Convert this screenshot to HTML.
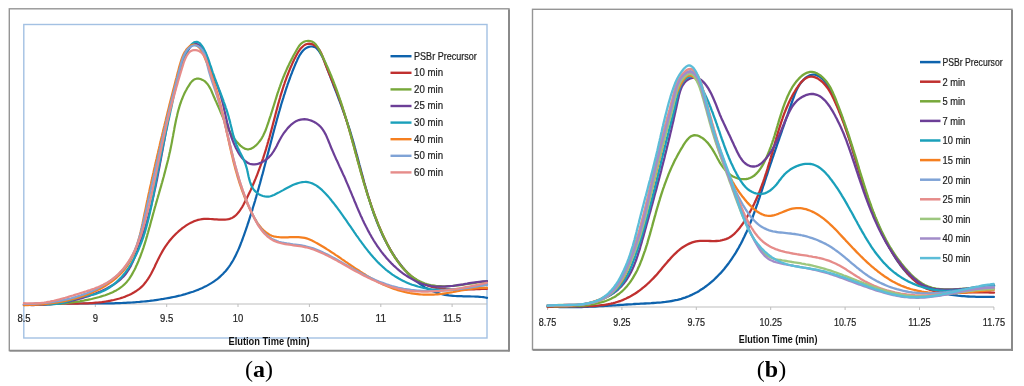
<!DOCTYPE html>
<html><head><meta charset="utf-8"><style>
html,body{margin:0;padding:0;background:#fff;}
body{width:1024px;height:386px;overflow:hidden;}
svg{display:block;}
.ax{font-family:"Liberation Sans",sans-serif;font-size:10.6px;fill:#1e1e1e;stroke:#1e1e1e;stroke-width:0.22px;text-anchor:middle;}
.ax2{font-family:"Liberation Sans",sans-serif;font-size:10.3px;fill:#1e1e1e;stroke:#1e1e1e;stroke-width:0.22px;text-anchor:middle;}
.at{font-family:"Liberation Sans",sans-serif;font-size:10px;font-weight:bold;fill:#111;text-anchor:middle;}
.at2{font-family:"Liberation Sans",sans-serif;font-size:10.2px;font-weight:bold;fill:#111;text-anchor:middle;}
.lg{font-family:"Liberation Sans",sans-serif;font-size:10.2px;fill:#1e1e1e;stroke:#1e1e1e;stroke-width:0.22px;}
.lg2{font-family:"Liberation Sans",sans-serif;font-size:10.6px;fill:#1e1e1e;stroke:#1e1e1e;stroke-width:0.22px;}
.cap{font-family:"Liberation Serif",serif;font-size:24px;fill:#000;text-anchor:middle;}
</style></head><body>
<svg width="1024" height="386" viewBox="0 0 1024 386">
<rect width="1024" height="386" fill="#fff"/>
<rect x="9.3" y="8.8" width="499.7" height="341.8" fill="#fff" stroke="#959595" stroke-width="1.4"/>
<rect x="508" y="9.5" width="2" height="342" fill="#8a8a8a"/>
<rect x="9.5" y="349.8" width="500" height="1.8" fill="#8a8a8a"/>
<rect x="23.8" y="24.5" width="463.2" height="313.5" fill="none" stroke="#A3C1E3" stroke-width="1.4"/>
<line x1="24" y1="304" x2="487" y2="304" stroke="#BDBDBD" stroke-width="1"/>
<line x1="24.0" y1="304" x2="24.0" y2="307" stroke="#BDBDBD" stroke-width="1"/>
<text x="24.0" y="321.7" class="ax" textLength="13.2" lengthAdjust="spacingAndGlyphs">8.5</text>
<line x1="95.3" y1="304" x2="95.3" y2="307" stroke="#BDBDBD" stroke-width="1"/>
<text x="95.3" y="321.7" class="ax" textLength="5.3" lengthAdjust="spacingAndGlyphs">9</text>
<line x1="166.7" y1="304" x2="166.7" y2="307" stroke="#BDBDBD" stroke-width="1"/>
<text x="166.7" y="321.7" class="ax" textLength="13.2" lengthAdjust="spacingAndGlyphs">9.5</text>
<line x1="238.0" y1="304" x2="238.0" y2="307" stroke="#BDBDBD" stroke-width="1"/>
<text x="238.0" y="321.7" class="ax" textLength="10.5" lengthAdjust="spacingAndGlyphs">10</text>
<line x1="309.4" y1="304" x2="309.4" y2="307" stroke="#BDBDBD" stroke-width="1"/>
<text x="309.4" y="321.7" class="ax" textLength="18.4" lengthAdjust="spacingAndGlyphs">10.5</text>
<line x1="380.8" y1="304" x2="380.8" y2="307" stroke="#BDBDBD" stroke-width="1"/>
<text x="380.8" y="321.7" class="ax" textLength="10.5" lengthAdjust="spacingAndGlyphs">11</text>
<line x1="452.1" y1="304" x2="452.1" y2="307" stroke="#BDBDBD" stroke-width="1"/>
<text x="452.1" y="321.7" class="ax" textLength="18.4" lengthAdjust="spacingAndGlyphs">11.5</text>
<text x="269.0" y="345.0" class="at" textLength="81.1" lengthAdjust="spacingAndGlyphs">Elution Time (min)</text>
<path d="M24.0,304.7 L26.0,304.6 L28.0,304.5 L30.0,304.4 L32.0,304.3 L34.0,304.2 L36.0,304.1 L38.0,304.0 L40.0,303.9 L42.0,303.9 L44.0,303.8 L46.0,303.8 L48.0,303.7 L50.0,303.7 L52.0,303.6 L54.0,303.6 L56.0,303.6 L58.0,303.6 L60.0,303.6 L62.0,303.5 L64.0,303.5 L66.0,303.5 L68.0,303.5 L70.0,303.5 L72.0,303.5 L74.0,303.5 L75.9,303.5 L77.9,303.5 L79.9,303.5 L81.9,303.5 L83.9,303.5 L85.9,303.5 L87.9,303.5 L89.9,303.5 L91.9,303.5 L93.9,303.5 L95.9,303.5 L97.9,303.5 L99.8,303.5 L101.8,303.5 L103.8,303.5 L105.8,303.4 L107.8,303.4 L109.8,303.4 L111.8,303.3 L113.8,303.3 L115.8,303.2 L117.7,303.1 L119.7,303.1 L121.7,303.0 L123.7,302.9 L125.7,302.8 L127.7,302.7 L129.7,302.6 L131.7,302.5 L133.7,302.3 L135.7,302.2 L137.6,302.0 L139.6,301.9 L141.6,301.7 L143.6,301.5 L145.6,301.3 L147.6,301.1 L149.6,300.9 L151.6,300.6 L153.6,300.4 L155.6,300.1 L157.5,299.8 L159.5,299.5 L161.5,299.2 L163.5,298.9 L165.5,298.5 L167.5,298.2 L169.5,297.8 L171.5,297.4 L173.5,297.0 L175.5,296.6 L177.5,296.1 L179.4,295.7 L181.4,295.2 L183.4,294.6 L185.3,294.1 L187.3,293.5 L189.2,292.9 L191.1,292.3 L193.0,291.7 L194.9,291.0 L196.8,290.3 L198.6,289.6 L200.5,288.8 L202.3,288.0 L204.0,287.1 L205.8,286.3 L207.5,285.4 L209.2,284.4 L210.9,283.4 L212.5,282.4 L214.1,281.3 L215.7,280.2 L217.2,279.1 L218.7,277.9 L220.1,276.6 L221.5,275.3 L222.9,274.0 L224.2,272.6 L225.5,271.2 L226.7,269.7 L227.9,268.2 L229.1,266.6 L230.2,265.0 L231.2,263.4 L232.3,261.7 L233.3,260.0 L234.2,258.2 L235.2,256.4 L236.1,254.6 L236.9,252.8 L237.8,250.9 L238.6,249.1 L239.4,247.2 L240.2,245.3 L240.9,243.3 L241.7,241.4 L242.4,239.5 L243.1,237.5 L243.8,235.6 L244.5,233.6 L245.2,231.7 L245.9,229.7 L246.5,227.8 L247.2,225.9 L247.8,223.9 L248.5,222.0 L249.1,220.0 L249.7,218.1 L250.3,216.2 L251.0,214.2 L251.6,212.3 L252.2,210.4 L252.7,208.4 L253.3,206.5 L253.9,204.6 L254.5,202.7 L255.1,200.7 L255.6,198.8 L256.2,196.9 L256.7,195.0 L257.3,193.0 L257.8,191.1 L258.4,189.2 L258.9,187.3 L259.4,185.4 L260.0,183.5 L260.5,181.5 L261.0,179.6 L261.5,177.7 L262.0,175.8 L262.6,173.9 L263.1,172.0 L263.6,170.1 L264.1,168.1 L264.6,166.2 L265.1,164.3 L265.6,162.4 L266.1,160.5 L266.6,158.6 L267.1,156.7 L267.6,154.8 L268.1,152.9 L268.6,151.0 L269.1,149.1 L269.6,147.2 L270.1,145.3 L270.6,143.4 L271.1,141.4 L271.6,139.5 L272.1,137.6 L272.6,135.7 L273.1,133.8 L273.6,131.9 L274.1,130.0 L274.6,128.1 L275.1,126.2 L275.7,124.3 L276.2,122.4 L276.7,120.5 L277.2,118.6 L277.8,116.7 L278.3,114.8 L278.8,112.9 L279.4,111.0 L279.9,109.1 L280.5,107.2 L281.0,105.3 L281.6,103.3 L282.2,101.4 L282.8,99.5 L283.4,97.6 L283.9,95.7 L284.6,93.8 L285.2,91.9 L285.8,90.0 L286.4,88.1 L287.1,86.1 L287.7,84.2 L288.4,82.3 L289.1,80.4 L289.8,78.5 L290.5,76.5 L291.2,74.6 L292.0,72.7 L292.7,70.7 L293.5,68.8 L294.3,66.9 L295.1,64.9 L295.9,63.0 L296.8,61.1 L297.6,59.1 L298.6,57.3 L299.5,55.5 L300.6,53.8 L301.7,52.2 L302.9,50.8 L304.2,49.5 L305.6,48.4 L307.2,47.5 L308.8,46.9 L310.6,46.5 L312.3,46.5 L314.0,46.8 L315.6,47.5 L317.0,48.7 L318.3,50.2 L319.5,51.9 L320.6,53.7 L321.6,55.5 L322.6,57.3 L323.4,59.1 L324.3,61.0 L325.1,62.9 L325.8,64.8 L326.5,66.7 L327.2,68.6 L327.9,70.5 L328.6,72.3 L329.3,74.2 L330.1,76.1 L330.8,78.0 L331.5,79.9 L332.2,81.7 L332.9,83.6 L333.6,85.5 L334.3,87.3 L335.0,89.2 L335.8,91.1 L336.5,92.9 L337.2,94.8 L337.9,96.6 L338.6,98.5 L339.3,100.3 L340.0,102.2 L340.7,104.0 L341.4,105.9 L342.0,107.7 L342.7,109.6 L343.4,111.5 L344.1,113.3 L344.7,115.2 L345.4,117.1 L346.0,118.9 L346.7,120.8 L347.3,122.7 L347.9,124.6 L348.6,126.4 L349.2,128.3 L349.8,130.2 L350.4,132.1 L351.0,134.0 L351.5,135.9 L352.1,137.9 L352.7,139.8 L353.2,141.7 L353.8,143.6 L354.3,145.5 L354.8,147.5 L355.4,149.4 L355.9,151.4 L356.4,153.3 L357.0,155.2 L357.5,157.2 L358.0,159.1 L358.5,161.1 L359.0,163.0 L359.5,165.0 L360.1,166.9 L360.6,168.9 L361.1,170.8 L361.6,172.7 L362.1,174.7 L362.7,176.6 L363.2,178.6 L363.7,180.5 L364.2,182.5 L364.8,184.4 L365.3,186.3 L365.9,188.3 L366.4,190.2 L367.0,192.1 L367.5,194.1 L368.1,196.0 L368.7,197.9 L369.3,199.8 L369.9,201.7 L370.5,203.7 L371.1,205.6 L371.7,207.5 L372.3,209.3 L373.0,211.2 L373.6,213.1 L374.3,215.0 L375.0,216.9 L375.7,218.7 L376.4,220.6 L377.1,222.4 L377.9,224.3 L378.6,226.1 L379.4,227.9 L380.2,229.8 L381.0,231.6 L381.8,233.4 L382.6,235.2 L383.5,236.9 L384.4,238.7 L385.2,240.5 L386.2,242.2 L387.1,244.0 L388.0,245.7 L389.0,247.4 L390.0,249.2 L391.0,250.9 L392.1,252.6 L393.1,254.2 L394.2,255.9 L395.3,257.6 L396.5,259.2 L397.6,260.8 L398.8,262.4 L400.0,264.0 L401.3,265.6 L402.5,267.2 L403.8,268.7 L405.1,270.3 L406.5,271.8 L407.8,273.2 L409.2,274.7 L410.6,276.1 L412.1,277.5 L413.6,278.8 L415.1,280.1 L416.6,281.4 L418.1,282.6 L419.7,283.8 L421.3,284.9 L423.0,286.0 L424.6,287.1 L426.3,288.1 L428.1,289.0 L429.8,289.9 L431.6,290.7 L433.4,291.5 L435.3,292.2 L437.1,292.9 L439.0,293.4 L441.0,294.0 L442.9,294.4 L444.9,294.8 L446.9,295.1 L448.9,295.4 L451.0,295.6 L453.1,295.8 L455.1,296.0 L457.2,296.1 L459.3,296.2 L461.4,296.2 L463.5,296.3 L465.5,296.3 L467.6,296.4 L469.7,296.4 L471.7,296.5 L473.7,296.5 L475.7,296.6 L477.7,296.7 L479.6,296.8 L481.5,297.0 L483.4,297.2 L485.2,297.5 L487.0,297.8" fill="none" stroke="#0E63AD" stroke-width="2.2" stroke-linejoin="round" stroke-linecap="round"/>
<path d="M24.0,304.6 L26.0,304.4 L28.0,304.2 L30.0,304.0 L32.0,303.9 L33.9,303.8 L35.9,303.7 L37.9,303.6 L39.9,303.5 L41.9,303.5 L43.9,303.4 L45.9,303.4 L47.9,303.4 L49.9,303.4 L51.9,303.4 L53.9,303.4 L55.9,303.4 L57.9,303.5 L59.9,303.5 L61.9,303.5 L63.9,303.5 L65.9,303.5 L67.9,303.6 L69.9,303.6 L71.9,303.6 L73.9,303.6 L75.9,303.6 L77.9,303.6 L79.9,303.5 L81.9,303.5 L83.9,303.4 L85.9,303.4 L87.9,303.3 L89.9,303.2 L91.9,303.1 L93.9,302.9 L95.8,302.7 L97.8,302.5 L99.8,302.3 L101.8,302.1 L103.8,301.8 L105.8,301.5 L107.8,301.2 L109.8,300.8 L111.7,300.4 L113.7,300.0 L115.7,299.5 L117.6,299.0 L119.6,298.5 L121.5,297.9 L123.4,297.3 L125.3,296.6 L127.1,295.8 L129.0,295.0 L130.7,294.2 L132.5,293.3 L134.2,292.3 L135.8,291.3 L137.4,290.2 L138.9,289.1 L140.4,287.9 L141.8,286.6 L143.2,285.2 L144.4,283.8 L145.6,282.3 L146.8,280.7 L147.9,279.1 L149.0,277.4 L150.0,275.7 L151.0,274.0 L151.9,272.2 L152.8,270.4 L153.8,268.5 L154.7,266.7 L155.5,264.8 L156.4,263.0 L157.3,261.1 L158.2,259.2 L159.2,257.4 L160.1,255.5 L161.1,253.7 L162.1,251.9 L163.1,250.1 L164.2,248.4 L165.3,246.7 L166.4,245.1 L167.6,243.4 L168.8,241.8 L170.0,240.3 L171.3,238.7 L172.6,237.3 L174.0,235.8 L175.3,234.4 L176.8,233.0 L178.2,231.7 L179.7,230.4 L181.2,229.2 L182.7,227.9 L184.3,226.8 L185.9,225.7 L187.5,224.6 L189.2,223.6 L190.9,222.7 L192.6,221.9 L194.4,221.1 L196.3,220.5 L198.1,219.9 L200.1,219.5 L202.0,219.1 L204.0,218.9 L206.1,218.9 L208.2,218.9 L210.3,219.0 L212.5,219.1 L214.6,219.3 L216.7,219.4 L218.8,219.6 L220.9,219.7 L222.9,219.7 L224.9,219.6 L226.8,219.4 L228.7,219.1 L230.4,218.6 L232.1,217.9 L233.6,217.0 L235.1,215.9 L236.4,214.7 L237.7,213.3 L239.0,211.8 L240.1,210.2 L241.2,208.5 L242.3,206.8 L243.3,205.0 L244.3,203.1 L245.2,201.3 L246.2,199.4 L247.1,197.6 L248.0,195.7 L248.9,193.8 L249.8,192.0 L250.7,190.1 L251.5,188.3 L252.3,186.4 L253.1,184.5 L253.9,182.7 L254.7,180.8 L255.5,178.9 L256.2,177.1 L257.0,175.2 L257.7,173.3 L258.4,171.4 L259.1,169.6 L259.8,167.7 L260.5,165.8 L261.2,163.9 L261.8,162.1 L262.4,160.2 L263.1,158.3 L263.7,156.4 L264.3,154.5 L264.9,152.7 L265.5,150.8 L266.1,148.9 L266.6,147.0 L267.2,145.1 L267.7,143.2 L268.3,141.3 L268.8,139.4 L269.4,137.5 L269.9,135.7 L270.4,133.8 L270.9,131.9 L271.4,130.0 L271.9,128.1 L272.4,126.2 L272.9,124.3 L273.4,122.4 L273.9,120.5 L274.4,118.6 L274.9,116.7 L275.4,114.7 L275.9,112.8 L276.4,110.9 L276.9,109.0 L277.4,107.1 L277.9,105.2 L278.4,103.3 L279.0,101.4 L279.5,99.5 L280.1,97.6 L280.6,95.6 L281.2,93.7 L281.8,91.8 L282.4,89.9 L283.0,88.0 L283.6,86.0 L284.3,84.1 L284.9,82.2 L285.6,80.3 L286.3,78.4 L287.0,76.4 L287.8,74.5 L288.5,72.6 L289.3,70.7 L290.1,68.7 L290.9,66.8 L291.8,64.9 L292.6,62.9 L293.5,61.0 L294.4,59.1 L295.4,57.2 L296.4,55.3 L297.4,53.4 L298.5,51.7 L299.6,50.0 L300.7,48.5 L302.0,47.2 L303.3,46.0 L304.6,45.0 L306.1,44.3 L307.6,43.9 L309.3,43.7 L311.0,43.9 L312.7,44.4 L314.4,45.2 L316.0,46.2 L317.5,47.5 L318.8,49.1 L319.9,50.7 L320.9,52.5 L321.7,54.4 L322.5,56.3 L323.2,58.2 L323.9,60.2 L324.6,62.1 L325.3,64.1 L326.1,66.0 L326.8,67.9 L327.6,69.8 L328.4,71.6 L329.1,73.5 L329.9,75.4 L330.7,77.2 L331.5,79.1 L332.2,81.0 L333.0,82.8 L333.8,84.7 L334.5,86.5 L335.3,88.4 L336.0,90.2 L336.7,92.1 L337.5,93.9 L338.2,95.8 L338.9,97.6 L339.5,99.5 L340.2,101.4 L340.9,103.3 L341.5,105.1 L342.2,107.0 L342.8,108.9 L343.4,110.8 L344.0,112.7 L344.6,114.6 L345.2,116.4 L345.8,118.3 L346.4,120.2 L347.0,122.1 L347.6,124.0 L348.1,125.9 L348.7,127.8 L349.2,129.7 L349.8,131.6 L350.3,133.5 L350.9,135.5 L351.4,137.4 L352.0,139.3 L352.5,141.2 L353.0,143.1 L353.5,145.0 L354.1,146.9 L354.6,148.8 L355.1,150.8 L355.6,152.7 L356.2,154.6 L356.7,156.5 L357.2,158.4 L357.7,160.4 L358.3,162.3 L358.8,164.2 L359.3,166.1 L359.9,168.0 L360.4,169.9 L360.9,171.9 L361.5,173.8 L362.0,175.7 L362.6,177.6 L363.1,179.5 L363.7,181.4 L364.2,183.4 L364.8,185.3 L365.4,187.2 L365.9,189.1 L366.5,191.0 L367.1,192.9 L367.7,194.8 L368.3,196.7 L369.0,198.6 L369.6,200.5 L370.2,202.5 L370.9,204.4 L371.5,206.3 L372.2,208.2 L372.8,210.0 L373.5,211.9 L374.2,213.8 L374.9,215.7 L375.6,217.6 L376.4,219.5 L377.1,221.4 L377.9,223.3 L378.6,225.1 L379.4,227.0 L380.2,228.9 L381.0,230.7 L381.8,232.6 L382.7,234.5 L383.5,236.3 L384.4,238.2 L385.3,240.0 L386.2,241.9 L387.1,243.7 L388.1,245.5 L389.0,247.3 L390.0,249.1 L391.0,250.9 L392.0,252.6 L393.1,254.4 L394.2,256.1 L395.3,257.8 L396.4,259.4 L397.5,261.0 L398.7,262.6 L399.9,264.2 L401.1,265.8 L402.4,267.3 L403.7,268.7 L405.0,270.2 L406.3,271.5 L407.7,272.9 L409.1,274.2 L410.6,275.5 L412.0,276.7 L413.5,277.9 L415.1,279.0 L416.7,280.0 L418.3,281.1 L419.9,282.0 L421.6,282.9 L423.4,283.8 L425.1,284.6 L426.9,285.3 L428.8,285.9 L430.7,286.5 L432.6,287.1 L434.6,287.5 L436.6,288.0 L438.6,288.3 L440.6,288.6 L442.7,288.9 L444.8,289.1 L446.9,289.3 L449.0,289.4 L451.1,289.5 L453.3,289.6 L455.4,289.7 L457.5,289.7 L459.7,289.7 L461.8,289.7 L463.9,289.6 L466.0,289.6 L468.0,289.5 L470.1,289.4 L472.1,289.4 L474.1,289.3 L476.0,289.2 L478.0,289.1 L479.8,289.1 L481.7,289.0 L483.5,289.0 L485.2,289.0 L486.9,289.0" fill="none" stroke="#C0302F" stroke-width="2.2" stroke-linejoin="round" stroke-linecap="round"/>
<path d="M24.0,304.5 L26.0,304.5 L28.0,304.5 L30.0,304.5 L32.0,304.5 L34.0,304.5 L36.0,304.5 L38.0,304.5 L40.0,304.5 L42.0,304.4 L44.0,304.4 L46.0,304.3 L48.0,304.2 L50.0,304.2 L52.0,304.1 L54.0,304.0 L56.0,303.8 L58.0,303.7 L59.9,303.6 L61.9,303.4 L63.9,303.2 L65.9,303.0 L67.9,302.8 L69.8,302.6 L71.8,302.4 L73.8,302.1 L75.8,301.9 L77.7,301.6 L79.7,301.3 L81.7,300.9 L83.7,300.6 L85.6,300.2 L87.6,299.8 L89.6,299.4 L91.6,299.0 L93.5,298.5 L95.5,298.0 L97.5,297.5 L99.4,297.0 L101.4,296.4 L103.3,295.8 L105.2,295.2 L107.1,294.5 L109.0,293.8 L110.9,293.0 L112.7,292.2 L114.4,291.3 L116.2,290.4 L117.9,289.4 L119.5,288.3 L121.1,287.2 L122.6,286.0 L124.1,284.7 L125.5,283.3 L126.8,281.9 L128.0,280.4 L129.2,278.8 L130.3,277.1 L131.4,275.4 L132.4,273.6 L133.4,271.8 L134.4,270.0 L135.3,268.2 L136.1,266.3 L137.0,264.5 L137.8,262.6 L138.6,260.7 L139.3,258.9 L140.1,257.0 L140.8,255.1 L141.5,253.2 L142.2,251.4 L142.8,249.5 L143.5,247.6 L144.1,245.7 L144.7,243.8 L145.3,241.9 L145.9,240.0 L146.4,238.1 L147.0,236.1 L147.5,234.2 L148.1,232.3 L148.6,230.4 L149.1,228.5 L149.7,226.6 L150.2,224.7 L150.7,222.7 L151.2,220.8 L151.8,218.9 L152.3,217.0 L152.8,215.1 L153.3,213.2 L153.9,211.2 L154.4,209.3 L154.9,207.4 L155.5,205.5 L156.0,203.6 L156.6,201.7 L157.1,199.8 L157.7,197.8 L158.2,195.9 L158.8,194.0 L159.3,192.1 L159.9,190.2 L160.4,188.3 L161.0,186.4 L161.5,184.4 L162.1,182.5 L162.6,180.6 L163.1,178.7 L163.7,176.7 L164.2,174.8 L164.7,172.9 L165.2,171.0 L165.7,169.0 L166.2,167.1 L166.7,165.1 L167.2,163.2 L167.7,161.3 L168.2,159.3 L168.6,157.4 L169.1,155.4 L169.5,153.4 L170.0,151.5 L170.4,149.5 L170.8,147.6 L171.2,145.6 L171.6,143.6 L172.0,141.6 L172.3,139.6 L172.7,137.6 L173.1,135.7 L173.4,133.7 L173.8,131.7 L174.2,129.7 L174.5,127.7 L174.9,125.7 L175.3,123.8 L175.7,121.8 L176.1,119.8 L176.5,117.9 L177.0,115.9 L177.4,114.0 L177.9,112.0 L178.4,110.1 L179.0,108.2 L179.5,106.3 L180.1,104.4 L180.8,102.5 L181.4,100.6 L182.2,98.8 L182.9,96.9 L183.7,95.1 L184.5,93.3 L185.4,91.5 L186.4,89.8 L187.3,88.0 L188.4,86.3 L189.5,84.6 L190.6,82.9 L191.9,81.4 L193.3,80.2 L194.8,79.2 L196.5,78.7 L198.4,78.6 L200.5,79.0 L202.5,79.9 L204.3,80.9 L205.8,82.2 L207.2,83.7 L208.4,85.3 L209.5,87.1 L210.5,88.9 L211.4,90.8 L212.2,92.7 L213.0,94.6 L213.8,96.5 L214.6,98.3 L215.4,100.2 L216.2,101.9 L217.0,103.7 L217.8,105.5 L218.6,107.3 L219.4,109.0 L220.1,110.8 L220.9,112.7 L221.7,114.5 L222.4,116.3 L223.2,118.1 L224.0,120.0 L224.8,121.8 L225.6,123.6 L226.5,125.5 L227.4,127.3 L228.3,129.1 L229.3,130.8 L230.3,132.6 L231.3,134.3 L232.4,136.0 L233.6,137.7 L234.8,139.4 L236.1,141.0 L237.5,142.6 L238.9,144.1 L240.4,145.6 L242.0,146.9 L243.7,148.1 L245.4,148.9 L247.1,149.3 L248.8,149.3 L250.6,148.9 L252.3,148.1 L254.0,147.0 L255.6,145.7 L257.1,144.2 L258.5,142.6 L259.8,141.0 L261.0,139.3 L262.1,137.6 L263.0,135.9 L263.9,134.1 L264.7,132.3 L265.5,130.5 L266.2,128.6 L266.9,126.7 L267.5,124.9 L268.2,123.0 L268.8,121.1 L269.4,119.2 L270.0,117.3 L270.7,115.3 L271.3,113.4 L271.9,111.5 L272.5,109.6 L273.1,107.7 L273.7,105.7 L274.3,103.8 L274.9,101.9 L275.5,100.0 L276.1,98.1 L276.7,96.1 L277.3,94.2 L277.9,92.3 L278.6,90.4 L279.2,88.5 L279.9,86.6 L280.5,84.8 L281.2,82.9 L281.9,81.0 L282.6,79.2 L283.3,77.3 L284.1,75.5 L284.8,73.7 L285.6,71.9 L286.4,70.1 L287.2,68.3 L288.0,66.5 L288.9,64.8 L289.7,63.0 L290.6,61.2 L291.5,59.4 L292.5,57.6 L293.4,55.8 L294.4,54.0 L295.4,52.2 L296.5,50.3 L297.5,48.5 L298.6,46.7 L299.9,45.0 L301.2,43.6 L302.8,42.4 L304.5,41.5 L306.4,41.0 L308.3,40.9 L310.2,41.0 L311.9,41.5 L313.5,42.4 L314.9,43.5 L316.2,45.0 L317.3,46.6 L318.3,48.3 L319.3,50.1 L320.2,52.0 L321.2,53.8 L322.1,55.6 L323.0,57.4 L323.9,59.3 L324.7,61.1 L325.6,63.0 L326.4,64.8 L327.3,66.7 L328.1,68.5 L328.9,70.4 L329.7,72.3 L330.5,74.1 L331.3,76.0 L332.0,77.9 L332.8,79.7 L333.5,81.6 L334.2,83.5 L335.0,85.4 L335.7,87.3 L336.4,89.2 L337.0,91.0 L337.7,92.9 L338.4,94.8 L339.0,96.7 L339.7,98.6 L340.3,100.5 L341.0,102.4 L341.6,104.3 L342.2,106.2 L342.8,108.1 L343.4,110.0 L344.0,111.9 L344.6,113.8 L345.2,115.8 L345.7,117.7 L346.3,119.6 L346.9,121.5 L347.4,123.4 L348.0,125.3 L348.5,127.2 L349.1,129.1 L349.6,131.0 L350.1,132.9 L350.7,134.9 L351.2,136.8 L351.7,138.7 L352.2,140.6 L352.7,142.5 L353.3,144.4 L353.8,146.3 L354.3,148.2 L354.8,150.2 L355.3,152.1 L355.8,154.0 L356.4,155.9 L356.9,157.8 L357.4,159.7 L357.9,161.6 L358.4,163.5 L359.0,165.4 L359.5,167.4 L360.0,169.3 L360.5,171.2 L361.1,173.1 L361.6,175.0 L362.2,176.9 L362.7,178.8 L363.3,180.7 L363.8,182.6 L364.4,184.5 L365.0,186.4 L365.6,188.3 L366.1,190.2 L366.7,192.1 L367.3,194.0 L367.9,196.0 L368.6,197.9 L369.2,199.8 L369.8,201.7 L370.5,203.5 L371.1,205.4 L371.8,207.3 L372.4,209.2 L373.1,211.1 L373.8,213.0 L374.5,214.9 L375.2,216.8 L376.0,218.7 L376.7,220.6 L377.5,222.5 L378.2,224.4 L379.0,226.2 L379.8,228.1 L380.6,230.0 L381.5,231.9 L382.3,233.8 L383.2,235.6 L384.0,237.5 L384.9,239.4 L385.8,241.3 L386.7,243.1 L387.7,245.0 L388.7,246.8 L389.6,248.6 L390.6,250.4 L391.7,252.2 L392.7,253.9 L393.8,255.7 L394.9,257.4 L396.0,259.1 L397.2,260.7 L398.3,262.3 L399.5,263.9 L400.8,265.5 L402.0,267.0 L403.3,268.4 L404.6,269.9 L406.0,271.2 L407.4,272.6 L408.8,273.9 L410.2,275.1 L411.7,276.3 L413.2,277.4 L414.8,278.5 L416.4,279.5 L418.0,280.4 L419.7,281.3 L421.4,282.1 L423.2,282.8 L424.9,283.5 L426.8,284.1 L428.6,284.6 L430.6,285.1 L432.5,285.4 L434.5,285.7 L436.5,286.0 L438.6,286.1 L440.7,286.2 L442.8,286.3 L444.9,286.3 L447.1,286.2 L449.2,286.1 L451.4,286.0 L453.5,285.8 L455.7,285.6 L457.8,285.4 L460.0,285.1 L462.1,284.8 L464.2,284.5 L466.3,284.2 L468.4,283.9 L470.4,283.6 L472.4,283.3 L474.4,283.0 L476.4,282.7 L478.2,282.4 L480.1,282.1 L481.9,281.8 L483.6,281.6 L485.3,281.4 L486.9,281.2" fill="none" stroke="#77A83A" stroke-width="2.2" stroke-linejoin="round" stroke-linecap="round"/>
<path d="M23.7,304.9 L25.7,305.0 L27.7,305.0 L29.6,305.0 L31.6,305.1 L33.6,305.1 L35.6,305.0 L37.6,305.0 L39.7,304.9 L41.7,304.9 L43.7,304.8 L45.7,304.6 L47.7,304.5 L49.7,304.3 L51.7,304.1 L53.7,303.9 L55.7,303.7 L57.6,303.4 L59.6,303.1 L61.6,302.8 L63.5,302.5 L65.5,302.1 L67.4,301.8 L69.3,301.4 L71.3,300.9 L73.2,300.5 L75.1,300.0 L77.0,299.5 L78.9,299.0 L80.8,298.5 L82.7,297.9 L84.6,297.3 L86.5,296.7 L88.4,296.1 L90.2,295.4 L92.1,294.7 L94.0,294.0 L95.9,293.3 L97.8,292.5 L99.7,291.7 L101.6,290.9 L103.5,290.1 L105.3,289.2 L107.1,288.3 L108.9,287.3 L110.7,286.3 L112.5,285.3 L114.2,284.2 L115.8,283.1 L117.4,281.9 L119.0,280.7 L120.5,279.4 L121.9,278.0 L123.3,276.7 L124.6,275.2 L125.9,273.7 L127.0,272.1 L128.1,270.5 L129.2,268.8 L130.1,267.1 L131.1,265.4 L131.9,263.6 L132.8,261.7 L133.6,259.9 L134.4,258.1 L135.1,256.2 L135.9,254.3 L136.6,252.5 L137.4,250.6 L138.1,248.7 L138.8,246.9 L139.5,245.0 L140.1,243.1 L140.8,241.2 L141.4,239.3 L142.1,237.4 L142.7,235.5 L143.3,233.6 L143.9,231.7 L144.5,229.8 L145.1,227.9 L145.7,226.0 L146.2,224.1 L146.8,222.1 L147.3,220.2 L147.9,218.3 L148.4,216.4 L148.9,214.4 L149.4,212.5 L149.9,210.6 L150.4,208.6 L150.9,206.7 L151.4,204.7 L151.8,202.8 L152.3,200.9 L152.8,198.9 L153.2,197.0 L153.7,195.0 L154.1,193.1 L154.5,191.1 L154.9,189.2 L155.4,187.2 L155.8,185.2 L156.2,183.3 L156.6,181.3 L157.0,179.4 L157.4,177.4 L157.8,175.4 L158.1,173.5 L158.5,171.5 L158.9,169.5 L159.3,167.6 L159.7,165.6 L160.0,163.6 L160.4,161.7 L160.8,159.7 L161.1,157.8 L161.5,155.8 L161.8,153.8 L162.2,151.9 L162.6,149.9 L162.9,147.9 L163.3,146.0 L163.6,144.0 L164.0,142.0 L164.4,140.1 L164.7,138.1 L165.1,136.1 L165.4,134.2 L165.8,132.2 L166.1,130.3 L166.5,128.3 L166.9,126.3 L167.2,124.4 L167.6,122.4 L168.0,120.5 L168.4,118.5 L168.7,116.6 L169.1,114.6 L169.5,112.7 L169.9,110.7 L170.3,108.8 L170.7,106.9 L171.1,104.9 L171.5,103.0 L171.9,101.1 L172.3,99.1 L172.8,97.2 L173.2,95.3 L173.6,93.3 L174.1,91.4 L174.5,89.5 L175.0,87.6 L175.5,85.7 L176.0,83.7 L176.5,81.8 L177.0,79.9 L177.6,78.0 L178.1,76.1 L178.7,74.1 L179.3,72.2 L180.0,70.3 L180.6,68.3 L181.3,66.4 L182.0,64.5 L182.7,62.5 L183.5,60.6 L184.3,58.6 L185.1,56.6 L186.0,54.7 L186.9,52.7 L187.8,50.8 L188.9,49.1 L189.9,47.5 L191.1,46.1 L192.3,45.0 L193.7,44.3 L195.2,43.9 L196.7,44.1 L198.3,44.6 L199.9,45.5 L201.3,46.8 L202.7,48.4 L203.8,50.2 L204.9,52.1 L205.8,54.1 L206.6,56.0 L207.3,58.0 L207.9,59.9 L208.4,61.8 L208.9,63.7 L209.4,65.6 L210.0,67.5 L210.6,69.4 L211.3,71.3 L212.0,73.2 L212.8,75.1 L213.6,77.0 L214.4,78.9 L215.3,80.8 L216.1,82.7 L216.9,84.5 L217.6,86.4 L218.3,88.3 L219.0,90.2 L219.6,92.1 L220.2,93.9 L220.8,95.8 L221.3,97.7 L221.8,99.6 L222.3,101.4 L222.8,103.3 L223.3,105.2 L223.7,107.1 L224.1,109.0 L224.5,110.8 L225.0,112.7 L225.4,114.6 L225.8,116.5 L226.2,118.4 L226.7,120.3 L227.1,122.2 L227.6,124.1 L228.1,126.0 L228.6,127.9 L229.1,129.8 L229.7,131.8 L230.3,133.7 L230.9,135.6 L231.6,137.6 L232.3,139.5 L233.1,141.5 L233.9,143.5 L234.7,145.4 L235.6,147.4 L236.6,149.3 L237.6,151.3 L238.7,153.1 L239.8,154.9 L241.0,156.6 L242.3,158.2 L243.6,159.6 L245.0,160.9 L246.5,162.0 L248.0,163.0 L249.6,163.7 L251.2,164.2 L253.0,164.4 L254.8,164.4 L256.7,164.2 L258.6,163.6 L260.5,162.9 L262.4,162.0 L264.2,160.9 L266.0,159.7 L267.6,158.4 L269.1,157.1 L270.5,155.6 L271.7,154.1 L272.8,152.5 L273.9,150.9 L274.8,149.3 L275.8,147.6 L276.7,145.9 L277.6,144.1 L278.5,142.3 L279.4,140.5 L280.4,138.7 L281.5,136.8 L282.6,135.0 L283.8,133.2 L285.1,131.5 L286.4,129.8 L287.7,128.1 L289.2,126.6 L290.6,125.2 L292.2,123.9 L293.8,122.7 L295.4,121.6 L297.1,120.8 L298.8,120.1 L300.6,119.6 L302.5,119.3 L304.4,119.2 L306.3,119.4 L308.2,119.7 L310.1,120.2 L312.0,120.9 L313.8,121.7 L315.5,122.7 L317.2,123.9 L318.8,125.1 L320.3,126.5 L321.6,128.0 L322.8,129.6 L323.9,131.3 L324.9,133.1 L325.9,134.9 L326.7,136.7 L327.5,138.6 L328.3,140.5 L329.1,142.5 L329.9,144.4 L330.6,146.3 L331.4,148.2 L332.2,150.0 L333.0,151.9 L333.8,153.7 L334.6,155.6 L335.4,157.4 L336.2,159.2 L337.1,161.0 L337.9,162.8 L338.7,164.6 L339.5,166.4 L340.4,168.2 L341.2,170.0 L342.0,171.8 L342.8,173.6 L343.6,175.3 L344.5,177.1 L345.3,178.9 L346.0,180.8 L346.8,182.6 L347.6,184.4 L348.4,186.2 L349.2,188.1 L349.9,189.9 L350.7,191.7 L351.5,193.6 L352.2,195.4 L353.0,197.3 L353.8,199.1 L354.5,201.0 L355.3,202.8 L356.1,204.7 L356.8,206.5 L357.6,208.4 L358.4,210.2 L359.2,212.0 L360.0,213.9 L360.8,215.7 L361.7,217.5 L362.5,219.4 L363.4,221.2 L364.2,223.0 L365.1,224.8 L366.0,226.6 L366.9,228.3 L367.8,230.1 L368.8,231.9 L369.7,233.6 L370.7,235.3 L371.7,237.1 L372.7,238.8 L373.7,240.5 L374.8,242.2 L375.9,243.8 L376.9,245.5 L378.1,247.1 L379.2,248.7 L380.4,250.3 L381.5,251.9 L382.8,253.5 L384.0,255.0 L385.3,256.5 L386.5,258.1 L387.9,259.5 L389.2,261.0 L390.6,262.4 L392.0,263.9 L393.4,265.3 L394.9,266.6 L396.4,268.0 L397.9,269.3 L399.4,270.6 L401.0,271.9 L402.6,273.1 L404.3,274.3 L405.9,275.4 L407.6,276.5 L409.3,277.6 L411.1,278.6 L412.9,279.6 L414.6,280.5 L416.4,281.4 L418.3,282.2 L420.1,283.0 L422.0,283.7 L423.8,284.3 L425.7,284.8 L427.6,285.3 L429.6,285.7 L431.5,286.1 L433.4,286.3 L435.4,286.5 L437.4,286.6 L439.3,286.7 L441.3,286.7 L443.3,286.7 L445.3,286.6 L447.3,286.4 L449.3,286.2 L451.3,286.0 L453.3,285.8 L455.3,285.5 L457.3,285.2 L459.3,284.9 L461.3,284.6 L463.3,284.3 L465.3,283.9 L467.3,283.6 L469.3,283.2 L471.3,282.9 L473.3,282.6 L475.3,282.3 L477.3,282.0 L479.2,281.8 L481.2,281.6 L483.1,281.4 L485.1,281.3 L487.0,281.2" fill="none" stroke="#6C3F97" stroke-width="2.2" stroke-linejoin="round" stroke-linecap="round"/>
<path d="M24.0,304.5 L25.9,304.3 L27.8,304.1 L29.8,304.1 L31.8,304.0 L33.8,304.0 L35.8,304.0 L37.9,304.1 L39.9,304.1 L41.9,304.2 L44.0,304.2 L46.0,304.3 L48.1,304.3 L50.1,304.3 L52.2,304.2 L54.2,304.1 L56.2,303.9 L58.1,303.7 L60.1,303.4 L62.0,303.0 L63.9,302.6 L65.7,302.0 L67.6,301.4 L69.4,300.8 L71.3,300.1 L73.1,299.5 L75.0,298.8 L76.9,298.2 L78.8,297.6 L80.8,297.1 L82.8,296.6 L84.8,296.2 L86.9,295.8 L88.9,295.4 L91.0,295.0 L93.0,294.6 L95.0,294.1 L97.0,293.5 L98.9,292.8 L100.8,292.1 L102.6,291.3 L104.4,290.5 L106.2,289.5 L107.9,288.5 L109.5,287.5 L111.1,286.4 L112.7,285.2 L114.3,284.0 L115.8,282.7 L117.2,281.4 L118.6,280.0 L120.0,278.6 L121.4,277.2 L122.7,275.7 L124.0,274.1 L125.2,272.6 L126.4,271.0 L127.6,269.3 L128.7,267.7 L129.8,266.0 L130.9,264.3 L131.9,262.6 L132.9,260.8 L133.9,259.1 L134.8,257.3 L135.7,255.5 L136.6,253.7 L137.4,251.9 L138.3,250.1 L139.0,248.3 L139.8,246.4 L140.5,244.6 L141.3,242.7 L142.0,240.9 L142.6,239.0 L143.3,237.1 L143.9,235.2 L144.5,233.4 L145.1,231.5 L145.6,229.6 L146.2,227.6 L146.7,225.7 L147.2,223.8 L147.7,221.9 L148.2,219.9 L148.7,218.0 L149.1,216.1 L149.6,214.1 L150.0,212.2 L150.4,210.2 L150.9,208.3 L151.3,206.3 L151.7,204.3 L152.1,202.4 L152.4,200.4 L152.8,198.4 L153.2,196.5 L153.6,194.5 L153.9,192.5 L154.3,190.5 L154.7,188.5 L155.0,186.6 L155.4,184.6 L155.8,182.6 L156.1,180.6 L156.5,178.6 L156.9,176.7 L157.2,174.7 L157.6,172.7 L158.0,170.7 L158.4,168.7 L158.8,166.8 L159.2,164.8 L159.6,162.8 L160.0,160.8 L160.4,158.9 L160.8,156.9 L161.2,154.9 L161.6,153.0 L162.0,151.0 L162.4,149.0 L162.8,147.1 L163.2,145.1 L163.6,143.1 L164.1,141.2 L164.5,139.2 L164.9,137.3 L165.3,135.3 L165.7,133.3 L166.1,131.4 L166.6,129.4 L167.0,127.5 L167.4,125.5 L167.8,123.6 L168.2,121.6 L168.6,119.7 L169.1,117.8 L169.5,115.8 L169.9,113.9 L170.3,112.0 L170.7,110.0 L171.2,108.1 L171.6,106.2 L172.0,104.2 L172.4,102.3 L172.8,100.4 L173.2,98.5 L173.6,96.5 L174.0,94.6 L174.4,92.7 L174.9,90.8 L175.3,88.9 L175.7,87.0 L176.1,85.1 L176.6,83.1 L177.0,81.2 L177.5,79.3 L178.0,77.4 L178.5,75.5 L179.1,73.5 L179.6,71.6 L180.2,69.6 L180.8,67.7 L181.5,65.7 L182.1,63.8 L182.8,61.8 L183.6,59.8 L184.3,57.8 L185.2,55.8 L186.0,53.8 L186.9,51.8 L187.9,49.9 L188.9,48.0 L190.0,46.3 L191.1,44.8 L192.4,43.6 L193.7,42.6 L195.1,42.0 L196.6,41.9 L198.0,42.2 L199.3,42.9 L200.6,44.1 L201.8,45.6 L203.0,47.3 L204.0,49.2 L205.0,51.2 L206.0,53.3 L206.8,55.3 L207.6,57.3 L208.3,59.2 L209.0,61.1 L209.6,63.0 L210.2,64.9 L210.9,66.7 L211.5,68.6 L212.1,70.5 L212.7,72.3 L213.4,74.2 L214.1,76.0 L214.7,77.9 L215.4,79.7 L216.1,81.6 L216.8,83.4 L217.5,85.3 L218.2,87.1 L218.9,89.0 L219.7,90.9 L220.4,92.7 L221.1,94.6 L221.8,96.5 L222.5,98.4 L223.2,100.2 L223.8,102.1 L224.5,104.0 L225.2,105.9 L225.8,107.8 L226.5,109.7 L227.1,111.6 L227.7,113.6 L228.3,115.5 L228.8,117.4 L229.3,119.4 L229.9,121.3 L230.3,123.3 L230.8,125.2 L231.3,127.2 L231.8,129.1 L232.2,131.1 L232.7,133.0 L233.2,134.9 L233.8,136.9 L234.4,138.8 L235.0,140.7 L235.6,142.5 L236.3,144.4 L237.1,146.2 L237.9,148.0 L238.8,149.7 L239.6,151.5 L240.5,153.2 L241.4,155.0 L242.3,156.8 L243.2,158.6 L244.0,160.4 L244.8,162.3 L245.5,164.2 L246.1,166.1 L246.7,168.1 L247.2,170.1 L247.6,172.1 L248.1,174.2 L248.5,176.2 L249.0,178.2 L249.5,180.2 L250.1,182.1 L250.8,184.0 L251.5,185.8 L252.4,187.5 L253.4,189.1 L254.6,190.6 L256.0,192.0 L257.5,193.3 L259.2,194.4 L261.0,195.3 L262.9,196.0 L264.9,196.4 L266.8,196.6 L268.7,196.6 L270.5,196.2 L272.3,195.6 L274.0,194.9 L275.8,194.0 L277.6,193.1 L279.5,192.1 L281.3,191.1 L283.2,190.1 L285.1,189.0 L287.0,188.0 L289.0,187.0 L290.9,186.0 L292.8,185.1 L294.7,184.3 L296.6,183.6 L298.5,183.0 L300.4,182.5 L302.3,182.1 L304.1,182.0 L305.9,181.9 L307.7,182.1 L309.4,182.5 L311.1,183.0 L312.8,183.6 L314.4,184.5 L316.1,185.4 L317.7,186.5 L319.2,187.6 L320.7,188.9 L322.2,190.2 L323.7,191.7 L325.2,193.2 L326.6,194.7 L328.0,196.3 L329.4,197.9 L330.7,199.5 L332.0,201.2 L333.3,202.8 L334.6,204.4 L335.8,206.0 L337.1,207.7 L338.3,209.3 L339.5,210.9 L340.7,212.6 L341.8,214.2 L343.0,215.8 L344.1,217.5 L345.3,219.1 L346.4,220.7 L347.5,222.3 L348.6,224.0 L349.8,225.6 L350.9,227.2 L352.0,228.8 L353.1,230.4 L354.2,232.1 L355.3,233.7 L356.4,235.3 L357.6,236.9 L358.7,238.5 L359.8,240.1 L361.0,241.7 L362.2,243.3 L363.4,244.9 L364.5,246.5 L365.8,248.1 L367.0,249.6 L368.2,251.2 L369.5,252.7 L370.7,254.3 L372.0,255.8 L373.3,257.3 L374.7,258.8 L376.0,260.2 L377.4,261.7 L378.8,263.1 L380.2,264.5 L381.6,265.8 L383.1,267.2 L384.6,268.5 L386.1,269.8 L387.6,271.0 L389.2,272.2 L390.8,273.4 L392.4,274.6 L394.1,275.7 L395.8,276.8 L397.5,277.8 L399.2,278.8 L401.0,279.8 L402.8,280.7 L404.6,281.6 L406.5,282.4 L408.3,283.2 L410.2,284.0 L412.1,284.7 L414.1,285.3 L416.0,285.9 L417.9,286.5 L419.9,287.0 L421.8,287.5 L423.8,288.0 L425.8,288.4 L427.8,288.7 L429.7,289.0 L431.7,289.3 L433.7,289.5 L435.6,289.6 L437.6,289.7 L439.6,289.8 L441.5,289.8 L443.5,289.8 L445.4,289.8 L447.4,289.7 L449.4,289.6 L451.3,289.5 L453.3,289.4 L455.2,289.2 L457.2,289.0 L459.2,288.8 L461.1,288.5 L463.1,288.3 L465.1,288.0 L467.0,287.7 L469.0,287.4 L471.0,287.1 L473.0,286.7 L475.0,286.4 L477.0,286.1 L479.0,285.8 L481.0,285.4 L483.0,285.1 L485.0,284.8 L487.0,284.4" fill="none" stroke="#1AA0BA" stroke-width="2.2" stroke-linejoin="round" stroke-linecap="round"/>
<path d="M24.0,305.2 L26.0,305.2 L28.0,305.1 L30.0,305.0 L32.0,305.0 L34.0,304.8 L36.0,304.7 L38.0,304.6 L40.0,304.5 L42.0,304.3 L44.0,304.1 L46.0,303.9 L47.9,303.7 L49.9,303.5 L51.9,303.2 L53.8,303.0 L55.8,302.7 L57.8,302.4 L59.7,302.0 L61.7,301.7 L63.6,301.3 L65.6,300.9 L67.5,300.5 L69.5,300.0 L71.4,299.5 L73.3,299.0 L75.3,298.5 L77.2,298.0 L79.1,297.4 L81.0,296.8 L83.0,296.1 L84.9,295.4 L86.8,294.7 L88.7,294.0 L90.6,293.2 L92.4,292.4 L94.3,291.6 L96.2,290.7 L98.0,289.8 L99.8,288.9 L101.6,288.0 L103.3,287.0 L105.1,286.0 L106.8,284.9 L108.4,283.8 L110.1,282.7 L111.7,281.5 L113.3,280.3 L114.8,279.1 L116.3,277.8 L117.8,276.5 L119.2,275.2 L120.6,273.8 L121.9,272.4 L123.2,271.0 L124.4,269.5 L125.6,268.0 L126.8,266.4 L127.8,264.8 L128.9,263.2 L129.9,261.6 L130.8,259.9 L131.7,258.1 L132.5,256.4 L133.4,254.6 L134.1,252.8 L134.9,251.0 L135.6,249.1 L136.2,247.3 L136.9,245.4 L137.5,243.5 L138.1,241.5 L138.6,239.6 L139.2,237.6 L139.7,235.7 L140.2,233.7 L140.7,231.7 L141.1,229.7 L141.6,227.7 L142.0,225.7 L142.5,223.7 L142.9,221.6 L143.3,219.6 L143.7,217.6 L144.1,215.6 L144.5,213.6 L145.0,211.6 L145.4,209.6 L145.8,207.6 L146.2,205.6 L146.6,203.6 L147.0,201.6 L147.5,199.6 L147.9,197.7 L148.3,195.7 L148.7,193.7 L149.2,191.7 L149.6,189.8 L150.0,187.8 L150.4,185.9 L150.9,183.9 L151.3,182.0 L151.7,180.0 L152.2,178.1 L152.6,176.1 L153.0,174.2 L153.5,172.2 L153.9,170.3 L154.3,168.4 L154.8,166.4 L155.2,164.5 L155.7,162.6 L156.1,160.6 L156.6,158.7 L157.0,156.8 L157.4,154.9 L157.9,152.9 L158.3,151.0 L158.8,149.1 L159.2,147.2 L159.7,145.2 L160.1,143.3 L160.6,141.4 L161.0,139.5 L161.5,137.6 L162.0,135.7 L162.4,133.7 L162.9,131.8 L163.3,129.9 L163.8,128.0 L164.3,126.1 L164.7,124.2 L165.2,122.2 L165.7,120.3 L166.1,118.4 L166.6,116.5 L167.1,114.6 L167.5,112.6 L168.0,110.7 L168.5,108.8 L169.0,106.9 L169.4,104.9 L169.9,103.0 L170.4,101.1 L170.9,99.1 L171.4,97.2 L171.9,95.2 L172.4,93.3 L172.9,91.3 L173.4,89.4 L173.9,87.4 L174.4,85.4 L174.9,83.4 L175.4,81.5 L175.9,79.5 L176.5,77.5 L177.0,75.5 L177.5,73.4 L178.1,71.4 L178.6,69.4 L179.1,67.3 L179.7,65.3 L180.3,63.3 L180.9,61.3 L181.5,59.3 L182.2,57.4 L183.0,55.5 L183.8,53.8 L184.7,52.1 L185.8,50.5 L186.9,49.0 L188.1,47.7 L189.4,46.5 L190.9,45.5 L192.4,44.8 L194.0,44.7 L195.6,45.1 L197.2,45.9 L198.7,47.0 L200.0,48.4 L201.2,50.1 L202.2,51.9 L203.1,53.8 L203.9,55.7 L204.7,57.7 L205.5,59.6 L206.3,61.5 L207.1,63.4 L207.8,65.4 L208.6,67.3 L209.3,69.2 L210.0,71.1 L210.7,73.0 L211.4,74.9 L212.1,76.8 L212.7,78.7 L213.3,80.6 L214.0,82.5 L214.6,84.3 L215.2,86.2 L215.8,88.1 L216.4,90.0 L216.9,91.9 L217.5,93.8 L218.0,95.7 L218.5,97.6 L219.1,99.6 L219.6,101.5 L220.1,103.4 L220.6,105.3 L221.1,107.2 L221.5,109.2 L222.0,111.1 L222.5,113.0 L222.9,115.0 L223.4,116.9 L223.8,118.8 L224.2,120.8 L224.7,122.7 L225.1,124.7 L225.5,126.6 L226.0,128.6 L226.4,130.5 L226.8,132.5 L227.3,134.4 L227.7,136.4 L228.1,138.3 L228.5,140.3 L229.0,142.2 L229.4,144.2 L229.8,146.1 L230.3,148.1 L230.7,150.0 L231.2,152.0 L231.6,153.9 L232.1,155.8 L232.6,157.8 L233.0,159.7 L233.5,161.7 L234.0,163.6 L234.5,165.5 L235.0,167.5 L235.5,169.4 L236.1,171.3 L236.6,173.2 L237.2,175.2 L237.7,177.1 L238.3,179.0 L238.9,180.9 L239.5,182.8 L240.1,184.7 L240.8,186.6 L241.4,188.5 L242.1,190.4 L242.8,192.3 L243.5,194.2 L244.2,196.0 L244.9,197.9 L245.7,199.8 L246.5,201.6 L247.3,203.5 L248.1,205.3 L249.0,207.2 L249.8,209.0 L250.7,210.8 L251.6,212.7 L252.6,214.5 L253.5,216.3 L254.5,218.1 L255.6,219.8 L256.6,221.6 L257.7,223.3 L258.9,224.9 L260.1,226.5 L261.3,228.0 L262.6,229.4 L263.9,230.7 L265.4,231.9 L266.9,233.0 L268.4,234.0 L270.0,234.9 L271.7,235.7 L273.5,236.3 L275.4,236.7 L277.3,237.0 L279.3,237.2 L281.4,237.3 L283.5,237.4 L285.6,237.4 L287.8,237.3 L289.9,237.2 L292.1,237.2 L294.3,237.1 L296.4,237.1 L298.6,237.2 L300.6,237.3 L302.7,237.6 L304.7,237.9 L306.6,238.4 L308.4,239.0 L310.2,239.8 L312.0,240.6 L313.7,241.4 L315.4,242.4 L317.1,243.3 L318.8,244.3 L320.5,245.3 L322.2,246.3 L323.9,247.3 L325.5,248.3 L327.2,249.4 L328.9,250.4 L330.5,251.5 L332.2,252.6 L333.9,253.7 L335.5,254.8 L337.2,255.9 L338.8,257.0 L340.5,258.2 L342.1,259.3 L343.8,260.4 L345.4,261.6 L347.1,262.7 L348.7,263.8 L350.4,265.0 L352.1,266.1 L353.7,267.2 L355.4,268.3 L357.1,269.4 L358.8,270.5 L360.4,271.6 L362.1,272.7 L363.8,273.8 L365.5,274.8 L367.2,275.9 L369.0,276.9 L370.7,277.9 L372.4,278.9 L374.2,279.9 L375.9,280.8 L377.7,281.7 L379.5,282.7 L381.2,283.5 L383.0,284.4 L384.9,285.2 L386.7,286.0 L388.5,286.8 L390.4,287.5 L392.2,288.2 L394.1,288.9 L396.0,289.5 L397.9,290.1 L399.9,290.7 L401.8,291.2 L403.7,291.7 L405.7,292.2 L407.7,292.6 L409.6,293.0 L411.6,293.3 L413.6,293.6 L415.6,293.9 L417.6,294.1 L419.6,294.3 L421.6,294.5 L423.6,294.6 L425.6,294.7 L427.6,294.7 L429.6,294.7 L431.6,294.7 L433.6,294.6 L435.6,294.5 L437.6,294.3 L439.6,294.1 L441.5,293.9 L443.5,293.6 L445.5,293.3 L447.4,293.0 L449.4,292.7 L451.3,292.3 L453.3,292.0 L455.2,291.6 L457.2,291.2 L459.1,290.9 L461.1,290.5 L463.0,290.1 L465.0,289.8 L467.0,289.5 L468.9,289.2 L470.9,288.9 L472.9,288.6 L474.9,288.4 L476.9,288.2 L478.9,288.0 L480.9,287.9 L482.9,287.8 L485.0,287.7 L487.0,287.8" fill="none" stroke="#F57F20" stroke-width="2.2" stroke-linejoin="round" stroke-linecap="round"/>
<path d="M24.0,304.0 L26.0,304.0 L28.0,304.0 L30.0,303.9 L32.0,303.8 L34.0,303.8 L36.0,303.6 L38.0,303.5 L40.0,303.4 L42.0,303.2 L44.0,303.0 L45.9,302.8 L47.9,302.6 L49.9,302.4 L51.8,302.1 L53.8,301.8 L55.8,301.5 L57.7,301.2 L59.7,300.8 L61.6,300.4 L63.6,300.0 L65.5,299.6 L67.5,299.1 L69.4,298.7 L71.4,298.2 L73.3,297.6 L75.2,297.1 L77.1,296.5 L79.1,295.9 L81.0,295.3 L82.9,294.6 L84.8,293.9 L86.7,293.2 L88.6,292.4 L90.5,291.7 L92.3,290.9 L94.2,290.0 L96.0,289.2 L97.8,288.3 L99.6,287.3 L101.4,286.4 L103.1,285.4 L104.9,284.4 L106.6,283.3 L108.2,282.2 L109.9,281.1 L111.5,279.9 L113.1,278.8 L114.6,277.5 L116.1,276.3 L117.6,275.0 L119.0,273.7 L120.4,272.3 L121.7,270.9 L123.0,269.5 L124.3,268.0 L125.5,266.5 L126.6,265.0 L127.7,263.4 L128.8,261.8 L129.8,260.1 L130.8,258.5 L131.7,256.8 L132.6,255.0 L133.4,253.3 L134.3,251.5 L135.0,249.7 L135.8,247.8 L136.5,246.0 L137.2,244.1 L137.8,242.2 L138.5,240.3 L139.1,238.4 L139.7,236.4 L140.2,234.5 L140.8,232.5 L141.3,230.5 L141.8,228.5 L142.3,226.6 L142.8,224.6 L143.3,222.6 L143.8,220.6 L144.2,218.6 L144.7,216.6 L145.1,214.6 L145.6,212.6 L146.1,210.6 L146.5,208.6 L147.0,206.6 L147.4,204.6 L147.9,202.6 L148.3,200.6 L148.7,198.7 L149.2,196.7 L149.6,194.7 L150.1,192.8 L150.5,190.8 L151.0,188.8 L151.4,186.9 L151.8,184.9 L152.3,183.0 L152.7,181.0 L153.1,179.1 L153.6,177.1 L154.0,175.2 L154.5,173.2 L154.9,171.3 L155.3,169.3 L155.8,167.4 L156.2,165.4 L156.6,163.5 L157.1,161.6 L157.5,159.6 L158.0,157.7 L158.4,155.8 L158.8,153.9 L159.3,151.9 L159.7,150.0 L160.2,148.1 L160.6,146.2 L161.0,144.2 L161.5,142.3 L161.9,140.4 L162.4,138.5 L162.8,136.6 L163.3,134.7 L163.7,132.7 L164.2,130.8 L164.6,128.9 L165.1,127.0 L165.5,125.1 L166.0,123.2 L166.4,121.3 L166.9,119.4 L167.4,117.5 L167.8,115.6 L168.3,113.6 L168.8,111.7 L169.2,109.8 L169.7,107.9 L170.2,106.0 L170.6,104.1 L171.1,102.1 L171.6,100.2 L172.1,98.3 L172.6,96.3 L173.1,94.4 L173.6,92.4 L174.1,90.5 L174.6,88.5 L175.1,86.5 L175.6,84.5 L176.1,82.6 L176.6,80.5 L177.1,78.5 L177.7,76.5 L178.2,74.5 L178.7,72.4 L179.3,70.4 L179.8,68.3 L180.4,66.2 L180.9,64.1 L181.5,62.0 L182.2,60.0 L182.8,58.1 L183.6,56.2 L184.4,54.4 L185.3,52.7 L186.3,51.1 L187.4,49.6 L188.6,48.4 L189.9,47.2 L191.4,46.3 L192.9,45.7 L194.6,45.3 L196.2,45.5 L197.8,46.0 L199.3,46.9 L200.7,48.1 L202.0,49.6 L203.1,51.3 L204.0,53.0 L204.8,54.9 L205.4,56.9 L206.0,58.9 L206.5,61.0 L206.9,63.1 L207.4,65.1 L207.9,67.2 L208.4,69.2 L208.9,71.2 L209.5,73.2 L210.1,75.1 L210.7,77.1 L211.3,79.0 L211.9,80.9 L212.6,82.8 L213.2,84.7 L213.9,86.6 L214.5,88.4 L215.2,90.3 L215.8,92.2 L216.4,94.1 L217.1,95.9 L217.7,97.8 L218.3,99.7 L218.8,101.6 L219.4,103.5 L220.0,105.4 L220.5,107.3 L221.1,109.2 L221.6,111.1 L222.1,113.0 L222.7,115.0 L223.2,116.9 L223.7,118.8 L224.2,120.7 L224.7,122.6 L225.1,124.6 L225.6,126.5 L226.1,128.4 L226.6,130.4 L227.0,132.3 L227.5,134.2 L228.0,136.2 L228.4,138.1 L228.9,140.1 L229.4,142.0 L229.8,144.0 L230.3,145.9 L230.8,147.8 L231.2,149.8 L231.7,151.7 L232.2,153.7 L232.7,155.6 L233.1,157.5 L233.6,159.5 L234.1,161.4 L234.6,163.3 L235.1,165.3 L235.7,167.2 L236.2,169.1 L236.7,171.1 L237.3,173.0 L237.8,174.9 L238.4,176.8 L238.9,178.8 L239.5,180.7 L240.1,182.6 L240.7,184.5 L241.3,186.4 L242.0,188.3 L242.6,190.2 L243.3,192.1 L244.0,194.0 L244.6,195.9 L245.4,197.8 L246.1,199.6 L246.8,201.5 L247.6,203.4 L248.4,205.2 L249.2,207.1 L250.0,208.9 L250.8,210.8 L251.7,212.6 L252.6,214.4 L253.5,216.3 L254.4,218.1 L255.4,219.9 L256.3,221.6 L257.4,223.4 L258.4,225.1 L259.5,226.7 L260.7,228.3 L261.9,229.9 L263.1,231.4 L264.4,232.8 L265.7,234.2 L267.1,235.4 L268.6,236.6 L270.1,237.7 L271.7,238.7 L273.4,239.6 L275.2,240.4 L277.0,241.1 L278.8,241.7 L280.8,242.2 L282.7,242.7 L284.7,243.0 L286.8,243.4 L288.9,243.7 L290.9,244.0 L293.0,244.3 L295.1,244.5 L297.2,244.8 L299.3,245.1 L301.4,245.4 L303.4,245.8 L305.4,246.2 L307.4,246.7 L309.3,247.2 L311.2,247.8 L313.1,248.4 L314.9,249.1 L316.8,249.8 L318.6,250.5 L320.3,251.3 L322.1,252.1 L323.9,252.9 L325.7,253.8 L327.4,254.6 L329.2,255.5 L330.9,256.4 L332.7,257.4 L334.4,258.3 L336.2,259.3 L337.9,260.2 L339.6,261.2 L341.4,262.2 L343.1,263.2 L344.8,264.1 L346.6,265.1 L348.3,266.1 L350.1,267.1 L351.8,268.1 L353.6,269.1 L355.3,270.1 L357.1,271.0 L358.9,272.0 L360.7,272.9 L362.4,273.9 L364.2,274.8 L366.0,275.7 L367.8,276.6 L369.7,277.4 L371.5,278.3 L373.3,279.1 L375.2,279.9 L377.0,280.7 L378.9,281.5 L380.7,282.2 L382.6,282.9 L384.5,283.6 L386.4,284.3 L388.2,284.9 L390.1,285.5 L392.0,286.1 L394.0,286.6 L395.9,287.1 L397.8,287.6 L399.7,288.0 L401.7,288.4 L403.6,288.8 L405.6,289.1 L407.5,289.4 L409.5,289.7 L411.5,290.0 L413.5,290.2 L415.4,290.4 L417.4,290.6 L419.4,290.7 L421.4,290.8 L423.4,290.9 L425.4,291.0 L427.4,291.0 L429.4,291.0 L431.4,291.0 L433.4,291.0 L435.4,291.0 L437.4,290.9 L439.4,290.8 L441.4,290.7 L443.4,290.6 L445.5,290.4 L447.5,290.3 L449.5,290.1 L451.5,289.9 L453.5,289.7 L455.5,289.5 L457.5,289.3 L459.5,289.0 L461.5,288.8 L463.5,288.5 L465.4,288.2 L467.4,287.9 L469.4,287.6 L471.4,287.3 L473.3,287.0 L475.3,286.7 L477.3,286.4 L479.2,286.0 L481.2,285.7 L483.1,285.3 L485.0,285.0 L487.0,284.7" fill="none" stroke="#7FA3D6" stroke-width="2.2" stroke-linejoin="round" stroke-linecap="round"/>
<path d="M23.9,303.1 L26.0,303.3 L28.1,303.4 L30.1,303.4 L32.2,303.5 L34.2,303.4 L36.2,303.3 L38.2,303.2 L40.2,303.0 L42.2,302.8 L44.1,302.6 L46.1,302.3 L48.0,301.9 L50.0,301.6 L51.9,301.2 L53.8,300.8 L55.8,300.3 L57.7,299.8 L59.6,299.4 L61.5,298.8 L63.4,298.3 L65.3,297.8 L67.2,297.2 L69.1,296.6 L71.0,296.0 L72.9,295.5 L74.8,294.9 L76.8,294.3 L78.7,293.7 L80.6,293.1 L82.5,292.5 L84.5,291.9 L86.4,291.3 L88.3,290.6 L90.2,290.0 L92.1,289.3 L94.0,288.7 L95.9,287.9 L97.8,287.2 L99.6,286.4 L101.5,285.6 L103.3,284.8 L105.0,283.8 L106.8,282.9 L108.5,281.9 L110.1,280.8 L111.8,279.6 L113.3,278.4 L114.9,277.2 L116.4,275.8 L117.9,274.5 L119.3,273.1 L120.7,271.6 L122.0,270.1 L123.3,268.6 L124.6,267.0 L125.8,265.4 L126.9,263.8 L128.1,262.2 L129.1,260.5 L130.2,258.8 L131.2,257.1 L132.2,255.4 L133.1,253.7 L134.0,251.9 L134.9,250.2 L135.7,248.4 L136.5,246.6 L137.3,244.8 L138.0,242.9 L138.7,241.1 L139.4,239.2 L140.1,237.4 L140.8,235.5 L141.4,233.6 L142.0,231.7 L142.6,229.8 L143.2,227.9 L143.7,226.0 L144.3,224.0 L144.8,222.1 L145.3,220.2 L145.8,218.2 L146.3,216.3 L146.8,214.3 L147.3,212.4 L147.8,210.4 L148.3,208.5 L148.8,206.5 L149.2,204.5 L149.7,202.6 L150.2,200.6 L150.6,198.6 L151.1,196.7 L151.5,194.7 L151.9,192.7 L152.4,190.8 L152.8,188.8 L153.2,186.8 L153.7,184.9 L154.1,182.9 L154.5,180.9 L154.9,178.9 L155.4,177.0 L155.8,175.0 L156.2,173.0 L156.6,171.1 L157.0,169.1 L157.4,167.1 L157.8,165.1 L158.2,163.2 L158.6,161.2 L159.0,159.3 L159.5,157.3 L159.9,155.3 L160.3,153.4 L160.7,151.4 L161.1,149.5 L161.5,147.5 L161.9,145.6 L162.3,143.6 L162.8,141.7 L163.2,139.7 L163.6,137.8 L164.0,135.9 L164.5,133.9 L164.9,132.0 L165.3,130.1 L165.8,128.2 L166.2,126.3 L166.6,124.4 L167.1,122.4 L167.6,120.5 L168.0,118.7 L168.5,116.8 L168.9,114.9 L169.4,113.0 L169.9,111.1 L170.4,109.2 L170.9,107.3 L171.4,105.4 L171.9,103.5 L172.4,101.6 L172.9,99.7 L173.4,97.8 L174.0,95.9 L174.5,94.0 L175.0,92.1 L175.6,90.1 L176.1,88.2 L176.7,86.2 L177.3,84.2 L177.8,82.2 L178.4,80.2 L179.0,78.2 L179.6,76.2 L180.2,74.1 L180.8,72.1 L181.5,70.0 L182.1,67.8 L182.8,65.7 L183.4,63.6 L184.1,61.5 L184.9,59.6 L185.7,57.7 L186.6,55.9 L187.6,54.4 L188.6,53.0 L189.8,51.8 L191.1,50.9 L192.6,50.3 L194.1,50.0 L195.7,50.1 L197.4,50.4 L199.0,51.1 L200.5,52.0 L201.9,53.2 L203.3,54.6 L204.4,56.2 L205.4,58.0 L206.2,59.9 L207.0,61.9 L207.6,63.9 L208.3,66.0 L208.9,68.0 L209.5,70.1 L210.1,72.1 L210.7,74.0 L211.3,76.0 L211.9,78.0 L212.6,79.9 L213.2,81.8 L213.8,83.8 L214.4,85.7 L215.0,87.6 L215.5,89.5 L216.1,91.4 L216.7,93.3 L217.3,95.2 L217.8,97.1 L218.4,99.0 L218.9,100.9 L219.4,102.8 L220.0,104.7 L220.5,106.6 L221.0,108.5 L221.5,110.4 L222.0,112.3 L222.5,114.2 L223.0,116.2 L223.5,118.1 L223.9,120.0 L224.4,121.9 L224.9,123.9 L225.4,125.8 L225.8,127.7 L226.3,129.7 L226.7,131.6 L227.2,133.5 L227.7,135.5 L228.1,137.4 L228.6,139.3 L229.1,141.3 L229.5,143.2 L230.0,145.2 L230.5,147.1 L231.0,149.0 L231.4,151.0 L231.9,152.9 L232.4,154.8 L232.9,156.8 L233.4,158.7 L233.9,160.6 L234.4,162.6 L234.9,164.5 L235.4,166.4 L236.0,168.3 L236.5,170.3 L237.1,172.2 L237.6,174.1 L238.2,176.0 L238.8,178.0 L239.3,179.9 L239.9,181.8 L240.5,183.7 L241.2,185.6 L241.8,187.5 L242.4,189.4 L243.1,191.3 L243.8,193.2 L244.5,195.1 L245.2,197.0 L245.9,198.8 L246.6,200.7 L247.4,202.6 L248.1,204.5 L248.9,206.3 L249.7,208.2 L250.5,210.1 L251.4,211.9 L252.2,213.8 L253.1,215.6 L254.0,217.4 L254.9,219.3 L255.8,221.1 L256.8,222.8 L257.8,224.6 L258.9,226.3 L260.0,227.9 L261.1,229.5 L262.3,231.1 L263.5,232.6 L264.8,234.0 L266.2,235.3 L267.6,236.6 L269.0,237.7 L270.6,238.8 L272.2,239.8 L273.8,240.7 L275.6,241.5 L277.4,242.1 L279.3,242.7 L281.2,243.2 L283.2,243.7 L285.2,244.1 L287.2,244.4 L289.3,244.7 L291.4,245.0 L293.4,245.3 L295.5,245.6 L297.6,245.8 L299.7,246.1 L301.8,246.5 L303.8,246.9 L305.8,247.3 L307.8,247.8 L309.7,248.3 L311.6,248.9 L313.5,249.5 L315.3,250.2 L317.1,250.9 L318.9,251.7 L320.7,252.5 L322.5,253.3 L324.3,254.1 L326.0,255.0 L327.8,255.8 L329.6,256.7 L331.3,257.6 L333.0,258.6 L334.8,259.5 L336.5,260.4 L338.2,261.4 L340.0,262.3 L341.7,263.3 L343.4,264.3 L345.2,265.3 L346.9,266.3 L348.7,267.2 L350.4,268.2 L352.1,269.2 L353.9,270.2 L355.7,271.2 L357.4,272.1 L359.2,273.1 L361.0,274.0 L362.8,275.0 L364.6,275.9 L366.4,276.8 L368.2,277.7 L370.0,278.6 L371.8,279.4 L373.7,280.3 L375.5,281.1 L377.4,281.9 L379.2,282.7 L381.1,283.4 L383.0,284.1 L384.9,284.8 L386.8,285.5 L388.6,286.1 L390.6,286.7 L392.5,287.3 L394.4,287.8 L396.3,288.3 L398.2,288.8 L400.2,289.2 L402.1,289.6 L404.1,289.9 L406.0,290.3 L408.0,290.5 L409.9,290.8 L411.9,291.0 L413.9,291.2 L415.9,291.3 L417.8,291.4 L419.8,291.5 L421.8,291.6 L423.8,291.6 L425.8,291.6 L427.8,291.6 L429.8,291.5 L431.7,291.4 L433.7,291.4 L435.7,291.2 L437.7,291.1 L439.7,290.9 L441.7,290.7 L443.7,290.5 L445.7,290.3 L447.7,290.1 L449.7,289.8 L451.7,289.5 L453.7,289.3 L455.7,289.0 L457.7,288.6 L459.6,288.3 L461.6,288.0 L463.6,287.6 L465.6,287.2 L467.5,286.9 L469.5,286.5 L471.5,286.1 L473.4,285.7 L475.4,285.3 L477.3,284.9 L479.2,284.5 L481.2,284.1 L483.1,283.7 L485.0,283.2 L486.9,282.8" fill="none" stroke="#E68C8A" stroke-width="2.2" stroke-linejoin="round" stroke-linecap="round"/>
<line x1="390.5" y1="56.2" x2="411.5" y2="56.2" stroke="#0E63AD" stroke-width="2.4"/>
<text x="414.1" y="59.5" class="lg" textLength="62.6" lengthAdjust="spacingAndGlyphs">PSBr Precursor</text>
<line x1="390.5" y1="72.8" x2="411.5" y2="72.8" stroke="#C0302F" stroke-width="2.4"/>
<text x="414.1" y="76.1" class="lg" textLength="29.0" lengthAdjust="spacingAndGlyphs">10 min</text>
<line x1="390.5" y1="89.4" x2="411.5" y2="89.4" stroke="#77A83A" stroke-width="2.4"/>
<text x="414.1" y="92.7" class="lg" textLength="29.0" lengthAdjust="spacingAndGlyphs">20 min</text>
<line x1="390.5" y1="106.0" x2="411.5" y2="106.0" stroke="#6C3F97" stroke-width="2.4"/>
<text x="414.1" y="109.3" class="lg" textLength="29.0" lengthAdjust="spacingAndGlyphs">25 min</text>
<line x1="390.5" y1="122.6" x2="411.5" y2="122.6" stroke="#1AA0BA" stroke-width="2.4"/>
<text x="414.1" y="125.9" class="lg" textLength="29.0" lengthAdjust="spacingAndGlyphs">30 min</text>
<line x1="390.5" y1="139.2" x2="411.5" y2="139.2" stroke="#F57F20" stroke-width="2.4"/>
<text x="414.1" y="142.5" class="lg" textLength="29.0" lengthAdjust="spacingAndGlyphs">40 min</text>
<line x1="390.5" y1="155.8" x2="411.5" y2="155.8" stroke="#7FA3D6" stroke-width="2.4"/>
<text x="414.1" y="159.1" class="lg" textLength="29.0" lengthAdjust="spacingAndGlyphs">50 min</text>
<line x1="390.5" y1="172.4" x2="411.5" y2="172.4" stroke="#E68C8A" stroke-width="2.4"/>
<text x="414.1" y="175.7" class="lg" textLength="29.0" lengthAdjust="spacingAndGlyphs">60 min</text>
<rect x="532.5" y="9.3" width="479.5" height="340.5" fill="#fff" stroke="#959595" stroke-width="1.4"/>
<rect x="1011" y="10" width="2" height="341" fill="#8a8a8a"/>
<rect x="533" y="348.8" width="480" height="2" fill="#8a8a8a"/>
<line x1="547.5" y1="307" x2="994" y2="307" stroke="#BDBDBD" stroke-width="1"/>
<line x1="547.5" y1="307" x2="547.5" y2="310" stroke="#BDBDBD" stroke-width="1"/>
<text x="547.5" y="325.7" class="ax2" textLength="17.4" lengthAdjust="spacingAndGlyphs">8.75</text>
<line x1="621.9" y1="307" x2="621.9" y2="310" stroke="#BDBDBD" stroke-width="1"/>
<text x="621.9" y="325.7" class="ax2" textLength="17.4" lengthAdjust="spacingAndGlyphs">9.25</text>
<line x1="696.3" y1="307" x2="696.3" y2="310" stroke="#BDBDBD" stroke-width="1"/>
<text x="696.3" y="325.7" class="ax2" textLength="17.4" lengthAdjust="spacingAndGlyphs">9.75</text>
<line x1="770.7" y1="307" x2="770.7" y2="310" stroke="#BDBDBD" stroke-width="1"/>
<text x="770.7" y="325.7" class="ax2" textLength="22.3" lengthAdjust="spacingAndGlyphs">10.25</text>
<line x1="845.1" y1="307" x2="845.1" y2="310" stroke="#BDBDBD" stroke-width="1"/>
<text x="845.1" y="325.7" class="ax2" textLength="22.3" lengthAdjust="spacingAndGlyphs">10.75</text>
<line x1="919.5" y1="307" x2="919.5" y2="310" stroke="#BDBDBD" stroke-width="1"/>
<text x="919.5" y="325.7" class="ax2" textLength="22.3" lengthAdjust="spacingAndGlyphs">11.25</text>
<line x1="993.9" y1="307" x2="993.9" y2="310" stroke="#BDBDBD" stroke-width="1"/>
<text x="993.9" y="325.7" class="ax2" textLength="22.3" lengthAdjust="spacingAndGlyphs">11.75</text>
<text x="778.1" y="343.2" class="at2" textLength="78.6" lengthAdjust="spacingAndGlyphs">Elution Time (min)</text>
<path d="M547.4,306.4 L549.5,306.5 L551.6,306.6 L553.6,306.7 L555.7,306.8 L557.7,306.9 L559.8,307.0 L561.8,307.0 L563.8,307.1 L565.9,307.1 L567.9,307.1 L569.9,307.1 L571.9,307.1 L573.8,307.1 L575.8,307.1 L577.8,307.1 L579.8,307.0 L581.7,307.0 L583.7,306.9 L585.7,306.9 L587.6,306.8 L589.6,306.7 L591.5,306.6 L593.5,306.5 L595.4,306.5 L597.4,306.4 L599.3,306.2 L601.3,306.1 L603.2,306.0 L605.2,305.9 L607.1,305.8 L609.1,305.7 L611.1,305.5 L613.0,305.4 L615.0,305.3 L616.9,305.2 L618.9,305.0 L620.9,304.9 L622.9,304.8 L624.8,304.6 L626.8,304.5 L628.8,304.4 L630.8,304.3 L632.8,304.2 L634.8,304.0 L636.9,303.9 L638.9,303.8 L640.9,303.7 L643.0,303.6 L645.0,303.5 L647.1,303.4 L649.1,303.3 L651.2,303.2 L653.2,303.0 L655.3,302.9 L657.4,302.7 L659.4,302.6 L661.5,302.4 L663.5,302.1 L665.5,301.9 L667.6,301.6 L669.6,301.3 L671.6,301.0 L673.5,300.6 L675.5,300.2 L677.5,299.8 L679.4,299.3 L681.3,298.8 L683.2,298.2 L685.1,297.6 L686.9,296.9 L688.7,296.2 L690.5,295.4 L692.3,294.6 L694.0,293.7 L695.8,292.8 L697.5,291.9 L699.2,290.9 L700.8,289.8 L702.5,288.8 L704.1,287.7 L705.7,286.5 L707.2,285.4 L708.8,284.2 L710.3,282.9 L711.8,281.6 L713.3,280.3 L714.7,279.0 L716.1,277.6 L717.5,276.2 L718.9,274.8 L720.3,273.4 L721.6,271.9 L722.9,270.4 L724.2,268.9 L725.5,267.3 L726.7,265.8 L727.9,264.2 L729.1,262.6 L730.3,260.9 L731.4,259.3 L732.5,257.7 L733.6,256.0 L734.7,254.3 L735.8,252.6 L736.8,250.9 L737.8,249.2 L738.8,247.5 L739.7,245.7 L740.7,244.0 L741.6,242.2 L742.5,240.4 L743.4,238.6 L744.3,236.8 L745.1,235.0 L745.9,233.2 L746.8,231.4 L747.6,229.6 L748.3,227.7 L749.1,225.9 L749.9,224.0 L750.6,222.2 L751.4,220.3 L752.1,218.5 L752.8,216.6 L753.5,214.7 L754.2,212.8 L754.9,210.9 L755.6,209.0 L756.2,207.1 L756.9,205.2 L757.6,203.3 L758.2,201.4 L758.8,199.5 L759.5,197.6 L760.1,195.7 L760.7,193.8 L761.4,191.9 L762.0,190.0 L762.6,188.1 L763.2,186.2 L763.9,184.3 L764.5,182.4 L765.1,180.5 L765.7,178.6 L766.3,176.7 L767.0,174.8 L767.6,172.9 L768.2,171.0 L768.8,169.1 L769.5,167.2 L770.1,165.4 L770.7,163.5 L771.4,161.6 L772.0,159.7 L772.6,157.8 L773.3,156.0 L773.9,154.1 L774.6,152.2 L775.2,150.3 L775.8,148.5 L776.5,146.6 L777.1,144.7 L777.8,142.9 L778.4,141.0 L779.1,139.1 L779.7,137.2 L780.4,135.4 L781.0,133.5 L781.7,131.6 L782.3,129.7 L783.0,127.9 L783.6,126.0 L784.3,124.1 L784.9,122.2 L785.6,120.3 L786.2,118.4 L786.9,116.6 L787.6,114.7 L788.2,112.8 L788.9,110.9 L789.6,109.0 L790.2,107.1 L790.9,105.2 L791.5,103.3 L792.2,101.3 L792.9,99.4 L793.6,97.5 L794.3,95.6 L795.0,93.7 L795.8,91.9 L796.6,90.0 L797.5,88.2 L798.5,86.4 L799.6,84.7 L800.7,83.1 L802.0,81.5 L803.4,79.9 L804.9,78.5 L806.5,77.2 L808.1,76.2 L809.8,75.4 L811.5,74.8 L813.2,74.6 L815.0,74.7 L816.6,75.1 L818.3,75.9 L819.9,76.8 L821.5,78.0 L822.9,79.4 L824.3,80.9 L825.6,82.5 L826.7,84.2 L827.8,85.9 L828.8,87.7 L829.7,89.5 L830.7,91.3 L831.6,93.1 L832.5,94.9 L833.3,96.7 L834.2,98.6 L835.0,100.4 L835.8,102.3 L836.7,104.1 L837.4,105.9 L838.2,107.8 L839.0,109.7 L839.7,111.5 L840.5,113.4 L841.2,115.3 L841.9,117.1 L842.6,119.0 L843.3,120.9 L844.0,122.8 L844.6,124.7 L845.3,126.6 L845.9,128.5 L846.6,130.4 L847.2,132.3 L847.8,134.2 L848.4,136.1 L849.0,138.0 L849.6,139.9 L850.2,141.8 L850.8,143.7 L851.4,145.6 L852.0,147.5 L852.6,149.4 L853.1,151.3 L853.7,153.3 L854.3,155.2 L854.8,157.1 L855.4,159.0 L856.0,160.9 L856.5,162.8 L857.1,164.7 L857.7,166.6 L858.2,168.5 L858.8,170.4 L859.4,172.3 L860.0,174.2 L860.5,176.1 L861.1,178.0 L861.7,179.9 L862.3,181.8 L862.9,183.7 L863.5,185.6 L864.1,187.5 L864.7,189.3 L865.4,191.2 L866.0,193.1 L866.6,194.9 L867.3,196.8 L867.9,198.7 L868.6,200.5 L869.3,202.4 L869.9,204.2 L870.6,206.1 L871.3,207.9 L872.0,209.8 L872.8,211.6 L873.5,213.4 L874.2,215.3 L875.0,217.1 L875.7,218.9 L876.5,220.8 L877.3,222.6 L878.1,224.4 L878.9,226.2 L879.7,228.1 L880.5,229.9 L881.4,231.7 L882.3,233.5 L883.1,235.3 L884.0,237.1 L884.9,238.9 L885.8,240.7 L886.8,242.5 L887.7,244.3 L888.7,246.1 L889.7,247.9 L890.7,249.7 L891.7,251.5 L892.7,253.3 L893.8,255.1 L894.8,256.8 L895.9,258.6 L897.0,260.3 L898.2,262.0 L899.4,263.6 L900.5,265.3 L901.8,266.9 L903.0,268.5 L904.3,270.1 L905.6,271.6 L906.9,273.1 L908.3,274.5 L909.6,275.9 L911.1,277.2 L912.5,278.6 L914.0,279.8 L915.5,281.0 L917.1,282.1 L918.7,283.2 L920.3,284.3 L922.0,285.3 L923.7,286.2 L925.4,287.1 L927.2,287.9 L929.0,288.7 L930.8,289.4 L932.6,290.1 L934.5,290.8 L936.3,291.4 L938.2,291.9 L940.2,292.5 L942.1,292.9 L944.0,293.4 L946.0,293.8 L948.0,294.2 L950.0,294.6 L952.0,294.9 L954.0,295.2 L956.0,295.4 L958.0,295.7 L960.1,295.9 L962.1,296.1 L964.1,296.2 L966.2,296.4 L968.2,296.5 L970.2,296.6 L972.2,296.7 L974.3,296.7 L976.3,296.8 L978.3,296.8 L980.3,296.9 L982.3,296.9 L984.2,296.9 L986.2,296.9 L988.2,296.9 L990.1,296.9 L992.0,296.9 L993.9,296.9" fill="none" stroke="#0E63AD" stroke-width="2.3" stroke-linejoin="round" stroke-linecap="round"/>
<path d="M547.6,307.0 L549.5,306.9 L551.4,306.8 L553.3,306.7 L555.3,306.6 L557.2,306.5 L559.2,306.5 L561.2,306.5 L563.2,306.4 L565.2,306.4 L567.2,306.4 L569.2,306.4 L571.2,306.4 L573.2,306.4 L575.3,306.4 L577.3,306.4 L579.4,306.4 L581.4,306.4 L583.4,306.3 L585.5,306.3 L587.5,306.2 L589.5,306.2 L591.6,306.1 L593.6,306.0 L595.6,305.8 L597.6,305.6 L599.6,305.4 L601.6,305.2 L603.6,305.0 L605.6,304.7 L607.5,304.3 L609.5,304.0 L611.4,303.5 L613.3,303.1 L615.2,302.6 L617.1,302.0 L619.0,301.4 L620.8,300.8 L622.6,300.1 L624.4,299.3 L626.2,298.5 L627.9,297.6 L629.7,296.7 L631.4,295.8 L633.1,294.8 L634.8,293.8 L636.4,292.7 L638.1,291.5 L639.7,290.4 L641.3,289.2 L642.8,287.9 L644.4,286.7 L645.9,285.4 L647.4,284.0 L648.9,282.7 L650.3,281.3 L651.8,279.8 L653.2,278.4 L654.6,276.9 L656.0,275.4 L657.3,273.9 L658.7,272.3 L660.0,270.8 L661.3,269.2 L662.6,267.6 L663.9,266.1 L665.2,264.5 L666.5,263.0 L667.8,261.4 L669.2,259.9 L670.5,258.4 L671.8,257.0 L673.2,255.5 L674.6,254.1 L676.0,252.8 L677.5,251.4 L679.0,250.2 L680.5,248.9 L682.0,247.8 L683.6,246.7 L685.3,245.7 L687.0,244.7 L688.7,243.9 L690.5,243.1 L692.3,242.4 L694.1,241.9 L696.0,241.4 L697.9,241.1 L699.9,240.9 L701.9,240.8 L703.9,240.8 L706.0,240.9 L708.0,240.9 L710.1,241.0 L712.2,241.1 L714.2,241.1 L716.3,241.0 L718.3,240.9 L720.2,240.6 L722.2,240.2 L724.1,239.7 L725.9,239.1 L727.7,238.4 L729.4,237.5 L731.0,236.5 L732.5,235.3 L734.0,234.1 L735.4,232.7 L736.8,231.3 L738.1,229.8 L739.4,228.2 L740.6,226.6 L741.8,225.0 L743.0,223.3 L744.1,221.6 L745.2,219.9 L746.3,218.2 L747.3,216.5 L748.4,214.7 L749.3,213.0 L750.3,211.3 L751.3,209.5 L752.2,207.7 L753.1,205.9 L754.0,204.2 L754.8,202.4 L755.7,200.6 L756.5,198.8 L757.3,196.9 L758.1,195.1 L758.8,193.3 L759.6,191.4 L760.3,189.6 L761.0,187.7 L761.7,185.9 L762.4,184.0 L763.1,182.2 L763.7,180.3 L764.4,178.4 L765.0,176.5 L765.6,174.6 L766.3,172.7 L766.9,170.8 L767.5,168.9 L768.0,167.0 L768.6,165.1 L769.2,163.2 L769.8,161.3 L770.3,159.4 L770.9,157.5 L771.4,155.5 L772.0,153.6 L772.5,151.7 L773.1,149.8 L773.6,147.8 L774.2,145.9 L774.7,144.0 L775.2,142.1 L775.8,140.1 L776.3,138.2 L776.9,136.3 L777.4,134.4 L778.0,132.4 L778.6,130.5 L779.2,128.6 L779.8,126.7 L780.4,124.8 L781.0,122.9 L781.6,121.0 L782.3,119.1 L782.9,117.2 L783.6,115.3 L784.3,113.4 L785.1,111.5 L785.8,109.7 L786.6,107.8 L787.4,106.0 L788.2,104.1 L789.0,102.3 L789.9,100.5 L790.8,98.6 L791.8,96.8 L792.7,95.0 L793.7,93.2 L794.8,91.5 L795.8,89.7 L797.0,88.0 L798.1,86.3 L799.3,84.6 L800.5,83.1 L801.8,81.6 L803.1,80.3 L804.5,79.1 L805.9,78.2 L807.3,77.4 L808.8,76.9 L810.4,76.6 L812.0,76.6 L813.6,76.8 L815.3,77.4 L816.9,78.1 L818.6,79.1 L820.2,80.2 L821.8,81.5 L823.3,82.9 L824.7,84.4 L826.0,86.0 L827.3,87.7 L828.5,89.4 L829.6,91.2 L830.6,93.0 L831.7,94.8 L832.6,96.7 L833.5,98.6 L834.4,100.5 L835.3,102.5 L836.1,104.4 L837.0,106.3 L837.8,108.2 L838.6,110.1 L839.3,112.0 L840.1,113.8 L840.8,115.7 L841.6,117.6 L842.3,119.5 L843.0,121.3 L843.7,123.2 L844.4,125.1 L845.0,126.9 L845.7,128.8 L846.3,130.6 L847.0,132.5 L847.6,134.3 L848.2,136.2 L848.9,138.0 L849.5,139.9 L850.1,141.7 L850.7,143.6 L851.3,145.5 L851.9,147.3 L852.4,149.2 L853.0,151.1 L853.6,152.9 L854.2,154.8 L854.8,156.7 L855.3,158.6 L855.9,160.5 L856.5,162.4 L857.1,164.3 L857.6,166.2 L858.2,168.1 L858.8,170.0 L859.4,171.9 L860.0,173.8 L860.6,175.7 L861.1,177.6 L861.7,179.5 L862.3,181.4 L862.9,183.3 L863.5,185.3 L864.1,187.2 L864.8,189.1 L865.4,191.0 L866.0,192.9 L866.6,194.8 L867.3,196.7 L867.9,198.6 L868.6,200.5 L869.2,202.4 L869.9,204.3 L870.6,206.2 L871.3,208.1 L872.0,209.9 L872.7,211.8 L873.4,213.7 L874.1,215.6 L874.9,217.4 L875.6,219.3 L876.4,221.1 L877.2,223.0 L878.0,224.8 L878.8,226.6 L879.6,228.5 L880.4,230.3 L881.2,232.1 L882.1,233.9 L883.0,235.7 L883.9,237.5 L884.8,239.2 L885.7,241.0 L886.6,242.8 L887.6,244.5 L888.6,246.2 L889.5,248.0 L890.6,249.7 L891.6,251.4 L892.6,253.1 L893.7,254.8 L894.8,256.4 L895.9,258.1 L897.0,259.7 L898.1,261.3 L899.3,263.0 L900.5,264.6 L901.7,266.2 L902.9,267.7 L904.2,269.3 L905.5,270.8 L906.8,272.4 L908.1,273.9 L909.5,275.4 L910.8,276.8 L912.3,278.3 L913.7,279.7 L915.2,281.0 L916.7,282.3 L918.2,283.5 L919.8,284.7 L921.4,285.8 L923.1,286.8 L924.8,287.8 L926.5,288.6 L928.3,289.3 L930.2,290.0 L932.1,290.5 L934.0,291.0 L935.9,291.4 L937.9,291.7 L939.9,291.9 L942.0,292.1 L944.0,292.2 L946.0,292.3 L948.1,292.4 L950.1,292.5 L952.1,292.5 L954.2,292.5 L956.2,292.5 L958.2,292.5 L960.2,292.5 L962.2,292.5 L964.2,292.5 L966.2,292.5 L968.1,292.4 L970.1,292.4 L972.1,292.4 L974.1,292.3 L976.1,292.3 L978.1,292.3 L980.1,292.3 L982.0,292.3 L984.0,292.3 L986.0,292.4 L988.0,292.4 L990.0,292.5 L992.0,292.6 L994.0,292.7" fill="none" stroke="#C0302F" stroke-width="2.3" stroke-linejoin="round" stroke-linecap="round"/>
<path d="M547.7,306.2 L549.4,306.2 L551.2,306.2 L553.0,306.2 L554.8,306.3 L556.7,306.3 L558.6,306.3 L560.6,306.3 L562.6,306.3 L564.6,306.3 L566.6,306.3 L568.7,306.2 L570.8,306.2 L572.9,306.1 L575.0,306.0 L577.1,305.9 L579.2,305.8 L581.3,305.6 L583.4,305.5 L585.5,305.3 L587.7,305.0 L589.7,304.7 L591.8,304.4 L593.9,304.1 L595.9,303.7 L597.9,303.2 L599.9,302.7 L601.9,302.2 L603.8,301.6 L605.7,301.0 L607.5,300.3 L609.4,299.5 L611.1,298.7 L612.8,297.8 L614.5,296.9 L616.1,295.9 L617.6,294.8 L619.2,293.7 L620.6,292.5 L622.0,291.3 L623.4,290.0 L624.7,288.7 L626.0,287.3 L627.2,285.9 L628.4,284.4 L629.6,282.9 L630.7,281.3 L631.8,279.7 L632.8,278.1 L633.8,276.4 L634.8,274.7 L635.8,272.9 L636.7,271.2 L637.6,269.4 L638.4,267.5 L639.3,265.7 L640.1,263.8 L640.8,261.9 L641.6,260.0 L642.3,258.1 L643.0,256.1 L643.7,254.2 L644.4,252.2 L645.1,250.3 L645.7,248.3 L646.3,246.3 L647.0,244.3 L647.6,242.3 L648.1,240.3 L648.7,238.3 L649.3,236.3 L649.9,234.4 L650.4,232.4 L651.0,230.4 L651.5,228.5 L652.1,226.5 L652.6,224.6 L653.1,222.6 L653.7,220.7 L654.2,218.8 L654.7,216.9 L655.3,214.9 L655.8,213.0 L656.3,211.1 L656.9,209.2 L657.4,207.3 L658.0,205.4 L658.5,203.6 L659.1,201.7 L659.7,199.8 L660.2,197.9 L660.8,196.1 L661.4,194.2 L662.0,192.4 L662.6,190.5 L663.2,188.7 L663.9,186.8 L664.5,185.0 L665.2,183.1 L665.9,181.3 L666.6,179.4 L667.3,177.6 L668.0,175.8 L668.7,173.9 L669.5,172.1 L670.3,170.3 L671.1,168.4 L671.9,166.6 L672.8,164.8 L673.6,163.0 L674.5,161.1 L675.4,159.3 L676.4,157.5 L677.3,155.7 L678.3,153.9 L679.4,152.0 L680.4,150.2 L681.5,148.4 L682.6,146.6 L683.7,144.7 L684.9,142.9 L686.1,141.2 L687.4,139.6 L688.7,138.2 L690.0,137.0 L691.5,136.1 L693.0,135.5 L694.6,135.2 L696.3,135.3 L698.0,135.7 L699.7,136.4 L701.4,137.4 L703.1,138.5 L704.7,139.8 L706.1,141.2 L707.5,142.6 L708.8,144.2 L710.0,145.8 L711.2,147.5 L712.3,149.2 L713.3,150.9 L714.4,152.7 L715.4,154.5 L716.4,156.3 L717.4,158.2 L718.4,160.0 L719.4,161.8 L720.5,163.6 L721.7,165.3 L722.8,167.0 L724.1,168.6 L725.4,170.2 L726.8,171.7 L728.2,173.0 L729.7,174.3 L731.3,175.4 L733.0,176.5 L734.8,177.3 L736.6,178.0 L738.6,178.6 L740.5,179.0 L742.5,179.1 L744.4,179.2 L746.3,179.0 L748.2,178.6 L749.9,178.0 L751.6,177.2 L753.2,176.3 L754.7,175.2 L756.1,173.9 L757.4,172.5 L758.7,171.0 L759.9,169.4 L761.1,167.7 L762.2,165.9 L763.2,164.1 L764.2,162.2 L765.1,160.3 L766.1,158.4 L766.9,156.5 L767.7,154.6 L768.5,152.7 L769.3,150.7 L770.0,148.8 L770.8,146.9 L771.4,145.0 L772.1,143.1 L772.7,141.2 L773.4,139.3 L774.0,137.4 L774.6,135.5 L775.1,133.7 L775.7,131.8 L776.3,129.9 L776.8,128.0 L777.4,126.1 L777.9,124.3 L778.5,122.4 L779.0,120.5 L779.6,118.6 L780.2,116.8 L780.8,114.9 L781.4,113.0 L782.0,111.2 L782.6,109.3 L783.2,107.4 L783.9,105.6 L784.6,103.7 L785.3,101.9 L786.1,100.0 L786.8,98.2 L787.6,96.3 L788.5,94.5 L789.4,92.6 L790.3,90.8 L791.3,89.0 L792.3,87.2 L793.4,85.5 L794.6,83.8 L795.9,82.1 L797.2,80.5 L798.6,78.9 L800.1,77.4 L801.6,76.0 L803.3,74.8 L804.9,73.7 L806.6,72.9 L808.3,72.3 L810.1,71.9 L811.9,71.9 L813.6,72.1 L815.4,72.7 L817.1,73.4 L818.8,74.4 L820.4,75.5 L822.0,76.8 L823.5,78.3 L824.9,79.8 L826.2,81.3 L827.5,83.0 L828.6,84.7 L829.7,86.4 L830.7,88.1 L831.6,89.9 L832.5,91.8 L833.3,93.6 L834.1,95.5 L834.9,97.3 L835.7,99.2 L836.4,101.1 L837.1,103.0 L837.9,104.9 L838.6,106.7 L839.3,108.6 L840.0,110.5 L840.7,112.4 L841.4,114.2 L842.1,116.1 L842.8,118.0 L843.4,119.8 L844.1,121.7 L844.7,123.6 L845.4,125.5 L846.0,127.3 L846.7,129.2 L847.3,131.1 L848.0,133.0 L848.6,134.9 L849.2,136.7 L849.8,138.6 L850.4,140.5 L851.0,142.4 L851.6,144.3 L852.2,146.2 L852.8,148.1 L853.4,150.0 L854.0,151.9 L854.6,153.8 L855.2,155.7 L855.8,157.6 L856.4,159.5 L856.9,161.4 L857.5,163.3 L858.1,165.3 L858.7,167.2 L859.2,169.1 L859.8,171.0 L860.4,173.0 L861.0,174.9 L861.6,176.8 L862.2,178.7 L862.8,180.6 L863.4,182.6 L864.0,184.5 L864.6,186.4 L865.2,188.3 L865.8,190.2 L866.4,192.1 L867.0,194.0 L867.7,196.0 L868.3,197.9 L869.0,199.8 L869.6,201.7 L870.3,203.5 L871.0,205.4 L871.6,207.3 L872.3,209.2 L873.0,211.1 L873.8,212.9 L874.5,214.8 L875.2,216.6 L876.0,218.5 L876.7,220.3 L877.5,222.2 L878.3,224.0 L879.1,225.8 L879.9,227.6 L880.8,229.4 L881.6,231.2 L882.5,233.0 L883.4,234.8 L884.3,236.6 L885.2,238.3 L886.1,240.1 L887.1,241.8 L888.0,243.5 L889.0,245.3 L890.0,247.0 L891.1,248.7 L892.1,250.4 L893.2,252.0 L894.3,253.7 L895.4,255.3 L896.5,257.0 L897.7,258.6 L898.9,260.2 L900.1,261.8 L901.3,263.4 L902.6,265.0 L903.8,266.5 L905.1,268.1 L906.5,269.6 L907.8,271.1 L909.2,272.6 L910.6,274.1 L912.1,275.5 L913.5,276.9 L915.0,278.2 L916.6,279.5 L918.2,280.8 L919.8,281.9 L921.4,283.0 L923.1,284.1 L924.8,285.0 L926.6,285.8 L928.4,286.6 L930.3,287.2 L932.2,287.8 L934.1,288.2 L936.1,288.6 L938.1,288.8 L940.1,289.1 L942.1,289.2 L944.2,289.3 L946.2,289.4 L948.2,289.4 L950.3,289.4 L952.3,289.3 L954.3,289.3 L956.3,289.2 L958.3,289.1 L960.3,288.9 L962.3,288.8 L964.2,288.6 L966.2,288.5 L968.2,288.3 L970.2,288.1 L972.1,287.8 L974.1,287.6 L976.1,287.4 L978.1,287.2 L980.0,286.9 L982.0,286.7 L984.0,286.5 L986.0,286.3 L988.0,286.1 L990.0,285.9 L992.0,285.7 L994.0,285.5" fill="none" stroke="#77A83A" stroke-width="2.3" stroke-linejoin="round" stroke-linecap="round"/>
<path d="M547.9,305.4 L549.6,305.5 L551.5,305.7 L553.3,305.8 L555.2,305.9 L557.1,306.0 L559.1,306.1 L561.1,306.1 L563.1,306.1 L565.1,306.0 L567.1,306.0 L569.2,305.9 L571.2,305.8 L573.3,305.6 L575.4,305.4 L577.4,305.2 L579.5,304.9 L581.6,304.6 L583.6,304.3 L585.7,303.9 L587.8,303.5 L589.8,303.0 L591.8,302.5 L593.8,302.0 L595.8,301.4 L597.7,300.7 L599.7,300.1 L601.6,299.3 L603.4,298.6 L605.3,297.7 L607.0,296.9 L608.8,295.9 L610.5,295.0 L612.2,293.9 L613.8,292.9 L615.3,291.7 L616.8,290.6 L618.3,289.3 L619.6,288.0 L621.0,286.7 L622.2,285.3 L623.5,283.8 L624.6,282.3 L625.8,280.8 L626.9,279.2 L627.9,277.5 L628.9,275.9 L629.8,274.2 L630.8,272.4 L631.6,270.7 L632.5,268.9 L633.3,267.1 L634.1,265.2 L634.8,263.3 L635.6,261.4 L636.3,259.5 L636.9,257.6 L637.6,255.7 L638.2,253.7 L638.9,251.7 L639.5,249.8 L640.1,247.8 L640.6,245.8 L641.2,243.8 L641.8,241.8 L642.3,239.8 L642.9,237.8 L643.5,235.9 L644.0,233.9 L644.6,231.9 L645.1,229.9 L645.7,228.0 L646.2,226.0 L646.7,224.1 L647.3,222.1 L647.8,220.2 L648.4,218.3 L648.9,216.3 L649.4,214.4 L650.0,212.5 L650.5,210.6 L651.0,208.6 L651.5,206.7 L652.1,204.8 L652.6,202.9 L653.1,201.0 L653.6,199.1 L654.1,197.2 L654.6,195.3 L655.1,193.4 L655.7,191.5 L656.2,189.6 L656.7,187.7 L657.2,185.8 L657.7,183.9 L658.2,182.0 L658.7,180.1 L659.2,178.2 L659.7,176.3 L660.2,174.4 L660.7,172.5 L661.2,170.6 L661.6,168.7 L662.1,166.8 L662.6,164.9 L663.1,163.0 L663.6,161.0 L664.1,159.1 L664.6,157.2 L665.0,155.3 L665.5,153.4 L666.0,151.5 L666.5,149.5 L666.9,147.6 L667.4,145.7 L667.9,143.7 L668.4,141.8 L668.8,139.8 L669.3,137.9 L669.8,135.9 L670.2,134.0 L670.7,132.0 L671.2,130.0 L671.6,128.0 L672.1,126.1 L672.5,124.1 L673.0,122.1 L673.5,120.1 L673.9,118.1 L674.4,116.0 L674.8,114.0 L675.3,112.0 L675.7,109.9 L676.2,107.9 L676.6,105.9 L677.1,103.8 L677.5,101.7 L678.0,99.6 L678.5,97.6 L678.9,95.5 L679.5,93.5 L680.0,91.6 L680.7,89.7 L681.4,87.8 L682.2,86.1 L683.2,84.5 L684.2,83.0 L685.4,81.7 L686.7,80.5 L688.2,79.5 L689.7,78.7 L691.4,78.1 L693.1,77.7 L694.9,77.7 L696.6,77.9 L698.3,78.4 L699.9,79.2 L701.5,80.3 L703.0,81.6 L704.4,83.1 L705.7,84.7 L707.0,86.5 L708.3,88.4 L709.4,90.4 L710.5,92.3 L711.5,94.3 L712.4,96.2 L713.3,98.2 L714.1,100.1 L714.9,102.0 L715.7,103.9 L716.4,105.7 L717.1,107.5 L717.8,109.4 L718.5,111.2 L719.2,112.9 L719.9,114.7 L720.7,116.4 L721.4,118.2 L722.2,119.9 L723.0,121.6 L723.8,123.4 L724.6,125.1 L725.4,126.8 L726.2,128.5 L727.0,130.3 L727.9,132.0 L728.7,133.8 L729.6,135.6 L730.5,137.4 L731.3,139.3 L732.2,141.2 L733.1,143.1 L734.0,145.1 L734.9,147.0 L735.9,149.1 L736.8,151.1 L737.8,153.0 L738.8,154.9 L739.9,156.8 L741.0,158.5 L742.2,160.2 L743.5,161.7 L744.8,163.0 L746.3,164.2 L747.8,165.1 L749.5,165.8 L751.2,166.3 L752.9,166.5 L754.7,166.5 L756.4,166.1 L758.1,165.5 L759.7,164.5 L761.3,163.3 L762.8,162.0 L764.2,160.5 L765.6,159.0 L766.9,157.4 L768.1,155.8 L769.3,154.1 L770.4,152.5 L771.5,150.8 L772.5,149.1 L773.5,147.3 L774.5,145.6 L775.4,143.8 L776.3,142.0 L777.1,140.1 L777.9,138.3 L778.8,136.5 L779.5,134.6 L780.3,132.8 L781.1,130.9 L781.9,129.0 L782.6,127.1 L783.4,125.3 L784.2,123.4 L784.9,121.5 L785.7,119.7 L786.5,117.8 L787.4,116.0 L788.2,114.1 L789.1,112.3 L790.0,110.5 L791.0,108.7 L792.0,107.0 L793.1,105.3 L794.3,103.7 L795.6,102.2 L797.0,100.7 L798.6,99.4 L800.2,98.2 L802.0,97.0 L803.8,96.1 L805.7,95.2 L807.7,94.6 L809.6,94.2 L811.5,94.0 L813.3,94.0 L815.0,94.3 L816.7,94.8 L818.4,95.5 L819.9,96.3 L821.5,97.4 L822.9,98.6 L824.3,99.9 L825.7,101.3 L827.0,102.9 L828.2,104.5 L829.5,106.2 L830.6,108.0 L831.8,109.8 L832.9,111.7 L833.9,113.5 L834.9,115.3 L835.9,117.2 L836.9,119.0 L837.8,120.9 L838.7,122.7 L839.6,124.5 L840.5,126.4 L841.3,128.2 L842.1,130.1 L842.9,131.9 L843.7,133.7 L844.4,135.6 L845.1,137.4 L845.9,139.2 L846.6,141.1 L847.2,142.9 L847.9,144.8 L848.6,146.6 L849.2,148.5 L849.9,150.3 L850.5,152.2 L851.1,154.0 L851.8,155.9 L852.4,157.8 L853.0,159.6 L853.6,161.5 L854.3,163.4 L854.9,165.3 L855.5,167.2 L856.1,169.0 L856.7,170.9 L857.4,172.8 L858.0,174.7 L858.6,176.6 L859.3,178.5 L859.9,180.4 L860.6,182.3 L861.2,184.2 L861.9,186.1 L862.5,188.0 L863.2,189.9 L863.8,191.8 L864.5,193.7 L865.2,195.6 L865.9,197.5 L866.6,199.4 L867.3,201.3 L868.0,203.1 L868.7,205.0 L869.4,206.9 L870.2,208.8 L870.9,210.6 L871.7,212.5 L872.5,214.4 L873.2,216.2 L874.0,218.1 L874.8,219.9 L875.7,221.7 L876.5,223.6 L877.3,225.4 L878.2,227.2 L879.0,229.0 L879.9,230.8 L880.8,232.6 L881.7,234.4 L882.7,236.2 L883.6,237.9 L884.6,239.7 L885.5,241.4 L886.5,243.2 L887.5,244.9 L888.6,246.6 L889.6,248.3 L890.7,250.0 L891.7,251.6 L892.8,253.3 L893.9,255.0 L895.1,256.6 L896.2,258.2 L897.4,259.8 L898.6,261.4 L899.8,263.0 L901.1,264.6 L902.3,266.1 L903.6,267.7 L904.9,269.2 L906.3,270.7 L907.6,272.2 L909.0,273.6 L910.4,275.1 L911.9,276.5 L913.3,277.9 L914.8,279.2 L916.4,280.5 L917.9,281.7 L919.5,282.8 L921.2,283.9 L922.9,284.9 L924.6,285.8 L926.4,286.6 L928.2,287.3 L930.1,287.9 L932.0,288.4 L934.0,288.8 L936.0,289.1 L938.0,289.4 L940.1,289.5 L942.1,289.7 L944.2,289.7 L946.3,289.7 L948.3,289.7 L950.4,289.7 L952.4,289.6 L954.4,289.5 L956.4,289.4 L958.4,289.3 L960.4,289.1 L962.3,289.0 L964.3,288.8 L966.3,288.6 L968.2,288.4 L970.2,288.1 L972.2,287.9 L974.1,287.7 L976.1,287.5 L978.0,287.2 L980.0,287.0 L982.0,286.7 L984.0,286.5 L986.0,286.2 L988.0,286.0 L990.0,285.8 L992.0,285.5 L994.0,285.3" fill="none" stroke="#6C3F97" stroke-width="2.3" stroke-linejoin="round" stroke-linecap="round"/>
<path d="M547.8,305.4 L549.6,305.6 L551.4,305.7 L553.2,305.8 L555.1,305.8 L557.0,305.9 L559.0,305.9 L560.9,305.9 L562.9,305.9 L564.9,305.9 L567.0,305.8 L569.0,305.7 L571.1,305.6 L573.2,305.5 L575.2,305.3 L577.3,305.0 L579.4,304.8 L581.5,304.5 L583.6,304.2 L585.6,303.8 L587.7,303.4 L589.7,302.9 L591.7,302.4 L593.7,301.9 L595.7,301.3 L597.6,300.7 L599.5,300.0 L601.4,299.2 L603.3,298.5 L605.1,297.6 L606.8,296.7 L608.5,295.8 L610.2,294.8 L611.8,293.7 L613.3,292.6 L614.8,291.4 L616.3,290.2 L617.6,288.8 L619.0,287.5 L620.2,286.0 L621.4,284.6 L622.5,283.0 L623.6,281.5 L624.7,279.8 L625.7,278.2 L626.6,276.5 L627.6,274.7 L628.4,273.0 L629.3,271.2 L630.1,269.3 L630.9,267.5 L631.7,265.6 L632.4,263.7 L633.1,261.8 L633.8,259.9 L634.5,258.0 L635.2,256.1 L635.8,254.1 L636.5,252.2 L637.1,250.3 L637.8,248.3 L638.4,246.4 L639.0,244.5 L639.7,242.6 L640.3,240.6 L640.9,238.7 L641.5,236.8 L642.1,234.8 L642.6,232.9 L643.2,231.0 L643.8,229.1 L644.4,227.1 L644.9,225.2 L645.5,223.3 L646.0,221.3 L646.6,219.4 L647.1,217.5 L647.6,215.5 L648.2,213.6 L648.7,211.7 L649.2,209.7 L649.7,207.8 L650.2,205.9 L650.7,204.0 L651.2,202.0 L651.7,200.1 L652.2,198.2 L652.7,196.2 L653.2,194.3 L653.7,192.4 L654.2,190.4 L654.7,188.5 L655.1,186.6 L655.6,184.7 L656.1,182.7 L656.6,180.8 L657.0,178.9 L657.5,177.0 L658.0,175.0 L658.4,173.1 L658.9,171.2 L659.4,169.3 L659.9,167.3 L660.3,165.4 L660.8,163.5 L661.2,161.6 L661.7,159.6 L662.2,157.7 L662.6,155.8 L663.1,153.9 L663.6,152.0 L664.1,150.1 L664.5,148.1 L665.0,146.2 L665.5,144.3 L665.9,142.4 L666.4,140.5 L666.9,138.6 L667.4,136.7 L667.9,134.8 L668.4,132.8 L668.8,130.9 L669.3,129.0 L669.8,127.1 L670.3,125.2 L670.8,123.3 L671.3,121.4 L671.8,119.4 L672.3,117.5 L672.8,115.5 L673.3,113.6 L673.8,111.6 L674.3,109.6 L674.8,107.6 L675.2,105.5 L675.7,103.5 L676.2,101.4 L676.7,99.3 L677.2,97.2 L677.6,95.1 L678.2,93.1 L678.8,91.0 L679.4,89.0 L680.1,87.1 L680.9,85.3 L681.8,83.6 L682.8,82.0 L683.9,80.6 L685.2,79.3 L686.7,78.1 L688.2,77.2 L689.8,76.6 L691.4,76.4 L692.9,76.5 L694.4,77.1 L695.7,78.2 L696.9,79.7 L698.1,81.4 L699.1,83.2 L700.2,85.1 L701.2,86.9 L702.2,88.8 L703.1,90.6 L704.0,92.5 L704.9,94.3 L705.8,96.2 L706.7,98.1 L707.5,99.9 L708.3,101.8 L709.1,103.7 L709.8,105.5 L710.6,107.4 L711.3,109.3 L712.0,111.1 L712.8,113.0 L713.4,114.9 L714.1,116.8 L714.8,118.6 L715.5,120.5 L716.1,122.4 L716.8,124.2 L717.4,126.1 L718.1,128.0 L718.7,129.8 L719.4,131.7 L720.0,133.6 L720.6,135.4 L721.3,137.3 L721.9,139.2 L722.6,141.0 L723.3,142.9 L723.9,144.7 L724.6,146.6 L725.3,148.5 L726.0,150.3 L726.7,152.2 L727.4,154.0 L728.2,155.8 L728.9,157.7 L729.7,159.5 L730.5,161.4 L731.3,163.2 L732.2,165.0 L733.0,166.8 L733.9,168.7 L734.8,170.5 L735.8,172.3 L736.7,174.1 L737.7,175.9 L738.7,177.7 L739.8,179.5 L740.9,181.2 L742.1,182.9 L743.3,184.5 L744.6,186.0 L745.9,187.5 L747.4,188.8 L748.9,190.0 L750.5,191.1 L752.2,192.0 L754.0,192.8 L755.9,193.3 L757.8,193.7 L759.7,193.9 L761.7,193.8 L763.6,193.6 L765.4,193.1 L767.2,192.3 L768.9,191.3 L770.6,190.2 L772.1,188.9 L773.6,187.5 L775.1,186.0 L776.5,184.4 L777.8,182.8 L779.0,181.1 L780.3,179.5 L781.5,177.9 L782.7,176.4 L784.0,174.9 L785.4,173.5 L786.9,172.1 L788.6,170.8 L790.2,169.6 L792.0,168.5 L793.8,167.5 L795.7,166.6 L797.6,165.8 L799.5,165.1 L801.4,164.6 L803.4,164.2 L805.3,163.9 L807.2,163.8 L809.1,163.8 L811.0,164.0 L812.7,164.4 L814.5,165.0 L816.2,165.7 L817.8,166.5 L819.3,167.5 L820.9,168.6 L822.3,169.8 L823.8,171.1 L825.2,172.5 L826.5,174.0 L827.9,175.5 L829.2,177.1 L830.4,178.7 L831.7,180.3 L832.9,182.0 L834.1,183.6 L835.3,185.3 L836.4,187.0 L837.6,188.7 L838.7,190.4 L839.8,192.1 L840.9,193.8 L841.9,195.6 L843.0,197.3 L844.1,199.1 L845.1,200.9 L846.1,202.6 L847.1,204.4 L848.1,206.2 L849.1,208.0 L850.1,209.8 L851.1,211.5 L852.1,213.3 L853.1,215.1 L854.0,216.9 L855.0,218.7 L856.0,220.5 L857.0,222.2 L857.9,224.0 L858.9,225.8 L859.9,227.6 L860.9,229.3 L861.9,231.1 L862.9,232.8 L863.9,234.5 L864.9,236.3 L865.9,238.0 L866.9,239.7 L868.0,241.4 L869.0,243.0 L870.1,244.7 L871.1,246.3 L872.2,248.0 L873.4,249.6 L874.5,251.2 L875.6,252.7 L876.8,254.3 L878.0,255.8 L879.2,257.3 L880.4,258.8 L881.7,260.3 L882.9,261.7 L884.2,263.2 L885.6,264.5 L886.9,265.9 L888.3,267.3 L889.7,268.6 L891.1,269.9 L892.6,271.1 L894.1,272.3 L895.7,273.5 L897.2,274.7 L898.8,275.8 L900.5,276.9 L902.2,278.0 L903.9,279.0 L905.6,280.0 L907.4,280.9 L909.2,281.9 L911.1,282.7 L913.0,283.6 L914.9,284.4 L916.8,285.1 L918.7,285.8 L920.7,286.5 L922.7,287.1 L924.6,287.7 L926.6,288.2 L928.6,288.7 L930.7,289.1 L932.7,289.5 L934.7,289.9 L936.7,290.1 L938.7,290.4 L940.7,290.6 L942.7,290.7 L944.7,290.8 L946.7,290.8 L948.7,290.8 L950.6,290.7 L952.6,290.6 L954.5,290.5 L956.5,290.3 L958.4,290.1 L960.4,289.9 L962.3,289.6 L964.3,289.4 L966.2,289.1 L968.1,288.8 L970.1,288.6 L972.0,288.3 L974.0,288.0 L976.0,287.7 L977.9,287.4 L979.9,287.1 L981.9,286.9 L983.9,286.7 L985.9,286.5 L987.9,286.3 L990.0,286.1 L992.0,286.0 L994.1,285.9" fill="none" stroke="#1AA0BA" stroke-width="2.3" stroke-linejoin="round" stroke-linecap="round"/>
<path d="M547.7,305.4 L549.5,305.6 L551.3,305.7 L553.2,305.8 L555.1,306.0 L557.0,306.0 L559.0,306.1 L561.0,306.1 L563.0,306.1 L565.0,306.1 L567.0,306.0 L569.1,305.9 L571.2,305.8 L573.2,305.6 L575.3,305.4 L577.4,305.1 L579.4,304.9 L581.5,304.5 L583.6,304.2 L585.6,303.8 L587.6,303.3 L589.6,302.8 L591.6,302.3 L593.6,301.7 L595.5,301.0 L597.4,300.3 L599.3,299.6 L601.1,298.8 L602.9,297.9 L604.7,297.0 L606.4,296.1 L608.0,295.1 L609.6,294.0 L611.2,292.9 L612.7,291.7 L614.1,290.4 L615.4,289.1 L616.7,287.7 L618.0,286.3 L619.2,284.8 L620.3,283.2 L621.4,281.6 L622.4,280.0 L623.4,278.3 L624.3,276.6 L625.2,274.9 L626.0,273.1 L626.9,271.3 L627.7,269.4 L628.4,267.6 L629.2,265.7 L629.9,263.8 L630.6,261.9 L631.2,260.0 L631.9,258.0 L632.6,256.1 L633.2,254.1 L633.9,252.2 L634.5,250.3 L635.1,248.3 L635.7,246.4 L636.4,244.5 L637.0,242.5 L637.6,240.6 L638.2,238.7 L638.8,236.7 L639.4,234.8 L639.9,232.9 L640.5,230.9 L641.1,229.0 L641.7,227.1 L642.2,225.1 L642.8,223.2 L643.4,221.3 L643.9,219.3 L644.5,217.4 L645.0,215.5 L645.5,213.6 L646.1,211.6 L646.6,209.7 L647.1,207.8 L647.6,205.8 L648.2,203.9 L648.7,202.0 L649.2,200.1 L649.7,198.1 L650.2,196.2 L650.7,194.3 L651.2,192.3 L651.7,190.4 L652.2,188.5 L652.7,186.6 L653.2,184.6 L653.7,182.7 L654.2,180.8 L654.6,178.9 L655.1,176.9 L655.6,175.0 L656.1,173.1 L656.5,171.2 L657.0,169.2 L657.5,167.3 L658.0,165.4 L658.4,163.5 L658.9,161.5 L659.4,159.6 L659.8,157.7 L660.3,155.8 L660.8,153.8 L661.2,151.9 L661.7,150.0 L662.1,148.1 L662.6,146.1 L663.1,144.2 L663.5,142.3 L664.0,140.4 L664.4,138.4 L664.9,136.5 L665.4,134.6 L665.8,132.7 L666.3,130.8 L666.7,128.8 L667.2,126.9 L667.7,125.0 L668.1,123.1 L668.6,121.1 L669.1,119.2 L669.5,117.3 L670.0,115.4 L670.5,113.5 L671.0,111.5 L671.4,109.6 L672.0,107.7 L672.5,105.7 L673.0,103.8 L673.6,101.9 L674.2,99.9 L674.9,97.9 L675.6,96.0 L676.3,94.0 L677.1,92.0 L678.0,90.0 L678.9,88.0 L679.8,86.0 L680.9,84.0 L681.9,82.1 L683.1,80.3 L684.3,78.7 L685.5,77.3 L686.8,76.3 L688.2,75.6 L689.5,75.4 L691.0,75.6 L692.4,76.2 L693.8,77.2 L695.2,78.4 L696.5,79.9 L697.7,81.5 L698.8,83.3 L699.7,85.0 L700.5,86.9 L701.3,88.8 L702.0,90.7 L702.6,92.6 L703.2,94.6 L703.7,96.5 L704.3,98.5 L704.8,100.4 L705.4,102.4 L705.9,104.3 L706.5,106.3 L707.0,108.3 L707.5,110.2 L708.0,112.2 L708.5,114.1 L709.1,116.1 L709.6,118.0 L710.1,120.0 L710.6,121.9 L711.1,123.9 L711.6,125.8 L712.2,127.8 L712.7,129.7 L713.2,131.6 L713.8,133.6 L714.3,135.5 L714.9,137.4 L715.4,139.3 L716.0,141.2 L716.6,143.2 L717.2,145.1 L717.8,146.9 L718.4,148.8 L719.0,150.7 L719.7,152.6 L720.3,154.5 L721.0,156.3 L721.7,158.2 L722.4,160.0 L723.1,161.9 L723.9,163.7 L724.6,165.5 L725.4,167.3 L726.2,169.1 L727.0,170.9 L727.9,172.7 L728.7,174.5 L729.6,176.2 L730.5,178.0 L731.5,179.7 L732.4,181.5 L733.4,183.2 L734.4,184.9 L735.5,186.6 L736.6,188.3 L737.7,190.0 L738.8,191.6 L740.0,193.3 L741.2,194.9 L742.4,196.5 L743.7,198.1 L745.0,199.7 L746.3,201.3 L747.7,202.9 L749.1,204.4 L750.6,205.9 L752.0,207.3 L753.6,208.7 L755.1,210.0 L756.7,211.2 L758.3,212.3 L760.0,213.3 L761.7,214.1 L763.4,214.8 L765.1,215.3 L766.9,215.7 L768.8,215.8 L770.6,215.8 L772.5,215.5 L774.4,215.1 L776.4,214.5 L778.3,213.8 L780.3,213.0 L782.3,212.2 L784.3,211.4 L786.3,210.6 L788.3,209.8 L790.3,209.2 L792.3,208.7 L794.3,208.3 L796.3,208.1 L798.3,208.1 L800.2,208.2 L802.2,208.4 L804.1,208.8 L806.0,209.2 L807.8,209.8 L809.7,210.5 L811.5,211.2 L813.3,212.1 L815.0,213.0 L816.8,214.0 L818.4,215.0 L820.1,216.1 L821.7,217.3 L823.3,218.4 L824.8,219.6 L826.3,220.9 L827.8,222.2 L829.3,223.5 L830.7,224.8 L832.1,226.1 L833.5,227.5 L834.9,228.9 L836.3,230.3 L837.7,231.8 L839.0,233.2 L840.4,234.7 L841.7,236.1 L843.1,237.6 L844.5,239.1 L845.8,240.6 L847.2,242.0 L848.6,243.5 L850.0,245.0 L851.4,246.5 L852.8,248.0 L854.2,249.4 L855.6,250.9 L857.0,252.4 L858.4,253.8 L859.9,255.3 L861.3,256.7 L862.8,258.1 L864.2,259.5 L865.7,260.9 L867.2,262.3 L868.7,263.7 L870.2,265.0 L871.7,266.4 L873.3,267.7 L874.8,269.0 L876.4,270.2 L877.9,271.5 L879.5,272.7 L881.1,273.9 L882.7,275.0 L884.3,276.2 L886.0,277.3 L887.6,278.3 L889.3,279.4 L891.0,280.4 L892.7,281.4 L894.4,282.3 L896.1,283.2 L897.8,284.1 L899.6,284.9 L901.4,285.7 L903.2,286.4 L905.0,287.1 L906.8,287.8 L908.7,288.4 L910.5,289.0 L912.4,289.5 L914.3,290.0 L916.2,290.4 L918.2,290.8 L920.1,291.2 L922.0,291.6 L924.0,291.9 L926.0,292.1 L928.0,292.4 L929.9,292.6 L931.9,292.8 L934.0,292.9 L936.0,293.0 L938.0,293.1 L940.0,293.2 L942.0,293.3 L944.1,293.3 L946.1,293.3 L948.1,293.3 L950.2,293.2 L952.2,293.2 L954.3,293.1 L956.3,293.0 L958.3,292.9 L960.4,292.8 L962.4,292.7 L964.4,292.5 L966.4,292.4 L968.5,292.2 L970.5,292.1 L972.5,291.9 L974.5,291.7 L976.4,291.5 L978.4,291.3 L980.4,291.2 L982.3,291.0 L984.3,290.8 L986.2,290.6 L988.1,290.4 L990.0,290.2 L991.9,290.0 L993.8,289.9" fill="none" stroke="#F57F20" stroke-width="2.3" stroke-linejoin="round" stroke-linecap="round"/>
<path d="M547.6,305.6 L549.4,305.5 L551.3,305.4 L553.2,305.3 L555.2,305.2 L557.2,305.2 L559.2,305.2 L561.2,305.1 L563.2,305.1 L565.2,305.1 L567.3,305.0 L569.4,305.0 L571.4,305.0 L573.5,304.9 L575.6,304.8 L577.6,304.7 L579.7,304.5 L581.7,304.3 L583.8,304.1 L585.8,303.8 L587.8,303.5 L589.8,303.1 L591.7,302.6 L593.6,302.1 L595.5,301.6 L597.4,300.9 L599.2,300.2 L600.9,299.4 L602.7,298.6 L604.4,297.6 L606.0,296.5 L607.6,295.4 L609.1,294.2 L610.6,292.9 L612.0,291.6 L613.4,290.2 L614.8,288.7 L616.1,287.2 L617.3,285.6 L618.6,284.0 L619.7,282.3 L620.9,280.6 L622.0,278.9 L623.0,277.1 L624.0,275.3 L625.0,273.5 L626.0,271.7 L626.9,269.9 L627.7,268.1 L628.6,266.2 L629.3,264.4 L630.1,262.5 L630.8,260.7 L631.5,258.8 L632.2,257.0 L632.9,255.1 L633.5,253.2 L634.1,251.3 L634.7,249.4 L635.3,247.5 L635.8,245.6 L636.4,243.7 L636.9,241.8 L637.4,239.9 L637.9,238.0 L638.4,236.1 L638.9,234.1 L639.4,232.2 L639.9,230.3 L640.3,228.4 L640.8,226.4 L641.3,224.5 L641.8,222.6 L642.3,220.6 L642.8,218.7 L643.3,216.8 L643.8,214.8 L644.3,212.9 L644.8,210.9 L645.3,209.0 L645.8,207.1 L646.3,205.1 L646.8,203.2 L647.4,201.2 L647.9,199.3 L648.4,197.4 L648.9,195.4 L649.5,193.5 L650.0,191.5 L650.5,189.6 L651.0,187.6 L651.6,185.7 L652.1,183.8 L652.6,181.8 L653.1,179.9 L653.7,177.9 L654.2,176.0 L654.7,174.1 L655.2,172.1 L655.7,170.2 L656.2,168.3 L656.7,166.3 L657.2,164.4 L657.7,162.5 L658.2,160.5 L658.7,158.6 L659.2,156.7 L659.7,154.7 L660.1,152.8 L660.6,150.9 L661.1,148.9 L661.5,147.0 L662.0,145.1 L662.4,143.2 L662.9,141.2 L663.3,139.3 L663.8,137.4 L664.2,135.5 L664.6,133.5 L665.1,131.6 L665.5,129.7 L666.0,127.7 L666.4,125.8 L666.9,123.9 L667.3,121.9 L667.8,120.0 L668.3,118.1 L668.7,116.1 L669.2,114.2 L669.7,112.2 L670.2,110.3 L670.7,108.3 L671.2,106.4 L671.7,104.4 L672.2,102.4 L672.7,100.4 L673.3,98.5 L673.8,96.5 L674.4,94.5 L675.0,92.5 L675.6,90.6 L676.3,88.6 L677.0,86.7 L677.7,84.8 L678.6,83.0 L679.5,81.2 L680.5,79.5 L681.6,77.8 L682.9,76.2 L684.2,74.7 L685.7,73.3 L687.2,72.1 L688.8,71.4 L690.4,71.1 L691.9,71.4 L693.4,72.1 L694.8,73.2 L696.1,74.7 L697.3,76.3 L698.4,78.1 L699.3,79.9 L700.2,81.7 L700.9,83.6 L701.5,85.6 L702.1,87.5 L702.7,89.4 L703.2,91.4 L703.7,93.3 L704.2,95.3 L704.8,97.2 L705.3,99.2 L705.8,101.2 L706.3,103.1 L706.9,105.1 L707.4,107.0 L707.9,109.0 L708.4,111.0 L709.0,112.9 L709.5,114.9 L710.1,116.8 L710.6,118.8 L711.2,120.7 L711.7,122.6 L712.2,124.6 L712.8,126.5 L713.4,128.5 L713.9,130.4 L714.5,132.3 L715.0,134.2 L715.6,136.1 L716.2,138.1 L716.7,140.0 L717.3,141.9 L717.9,143.8 L718.5,145.7 L719.1,147.5 L719.6,149.4 L720.2,151.3 L720.8,153.2 L721.4,155.0 L722.0,156.9 L722.7,158.7 L723.3,160.6 L723.9,162.4 L724.6,164.3 L725.2,166.1 L725.9,168.0 L726.6,169.8 L727.3,171.6 L728.0,173.5 L728.7,175.3 L729.4,177.1 L730.2,178.9 L730.9,180.8 L731.7,182.6 L732.5,184.4 L733.4,186.3 L734.2,188.1 L735.0,189.9 L735.9,191.7 L736.8,193.6 L737.7,195.4 L738.7,197.2 L739.7,199.1 L740.6,200.9 L741.7,202.8 L742.7,204.6 L743.8,206.4 L744.9,208.2 L746.0,210.0 L747.2,211.7 L748.4,213.4 L749.6,215.1 L750.8,216.7 L752.1,218.3 L753.5,219.8 L754.9,221.2 L756.3,222.6 L757.7,223.9 L759.2,225.1 L760.8,226.2 L762.4,227.2 L764.0,228.1 L765.7,228.9 L767.4,229.7 L769.2,230.3 L771.0,230.8 L772.9,231.3 L774.8,231.6 L776.7,232.0 L778.6,232.3 L780.6,232.5 L782.6,232.7 L784.6,232.9 L786.6,233.1 L788.6,233.3 L790.6,233.5 L792.6,233.8 L794.6,234.0 L796.6,234.3 L798.6,234.7 L800.6,235.0 L802.6,235.5 L804.5,235.9 L806.5,236.4 L808.4,237.0 L810.3,237.6 L812.2,238.2 L814.1,238.8 L816.0,239.5 L817.8,240.3 L819.6,241.1 L821.4,241.9 L823.2,242.7 L825.0,243.6 L826.7,244.6 L828.5,245.6 L830.2,246.6 L831.8,247.6 L833.5,248.7 L835.1,249.9 L836.7,251.0 L838.3,252.2 L839.9,253.4 L841.5,254.7 L843.0,255.9 L844.6,257.2 L846.1,258.5 L847.6,259.7 L849.2,261.0 L850.7,262.3 L852.2,263.6 L853.8,264.9 L855.3,266.2 L856.8,267.5 L858.4,268.7 L860.0,270.0 L861.6,271.2 L863.1,272.4 L864.8,273.6 L866.4,274.7 L868.1,275.9 L869.7,276.9 L871.4,278.0 L873.1,279.0 L874.9,280.0 L876.6,281.0 L878.4,281.9 L880.2,282.8 L882.0,283.6 L883.8,284.4 L885.6,285.2 L887.5,286.0 L889.3,286.7 L891.2,287.4 L893.1,288.0 L895.0,288.6 L896.9,289.2 L898.8,289.7 L900.7,290.2 L902.6,290.7 L904.6,291.1 L906.5,291.5 L908.5,291.9 L910.4,292.2 L912.4,292.5 L914.4,292.7 L916.3,292.9 L918.3,293.0 L920.3,293.2 L922.3,293.3 L924.3,293.3 L926.3,293.3 L928.3,293.3 L930.2,293.3 L932.2,293.2 L934.3,293.1 L936.3,293.0 L938.3,292.9 L940.3,292.7 L942.3,292.6 L944.3,292.4 L946.3,292.2 L948.3,291.9 L950.3,291.7 L952.3,291.5 L954.3,291.2 L956.3,290.9 L958.3,290.7 L960.3,290.4 L962.3,290.1 L964.3,289.9 L966.3,289.6 L968.3,289.3 L970.3,289.0 L972.3,288.8 L974.3,288.5 L976.3,288.3 L978.3,288.0 L980.2,287.8 L982.2,287.6 L984.2,287.4 L986.1,287.2 L988.1,287.0 L990.0,286.8 L992.0,286.7 L993.9,286.6" fill="none" stroke="#7FA3D6" stroke-width="2.3" stroke-linejoin="round" stroke-linecap="round"/>
<path d="M547.7,305.6 L549.3,305.5 L551.1,305.3 L552.9,305.3 L554.7,305.2 L556.6,305.1 L558.6,305.1 L560.6,305.1 L562.6,305.1 L564.7,305.0 L566.8,305.0 L568.9,305.0 L571.0,304.9 L573.2,304.9 L575.3,304.8 L577.4,304.6 L579.6,304.5 L581.7,304.3 L583.8,304.1 L585.9,303.8 L588.0,303.5 L590.0,303.1 L592.1,302.6 L594.0,302.1 L595.9,301.5 L597.8,300.9 L599.6,300.1 L601.4,299.3 L603.1,298.4 L604.7,297.4 L606.3,296.3 L607.8,295.2 L609.2,293.9 L610.6,292.6 L611.9,291.2 L613.2,289.8 L614.4,288.2 L615.5,286.7 L616.6,285.1 L617.7,283.4 L618.7,281.7 L619.7,279.9 L620.7,278.2 L621.7,276.4 L622.6,274.6 L623.5,272.8 L624.3,270.9 L625.2,269.1 L626.0,267.3 L626.8,265.4 L627.6,263.6 L628.4,261.7 L629.2,259.9 L629.9,258.0 L630.6,256.1 L631.3,254.3 L632.1,252.4 L632.7,250.5 L633.4,248.6 L634.1,246.7 L634.7,244.8 L635.4,243.0 L636.0,241.1 L636.6,239.2 L637.2,237.3 L637.8,235.3 L638.4,233.4 L638.9,231.5 L639.5,229.6 L640.0,227.7 L640.6,225.8 L641.1,223.9 L641.6,221.9 L642.1,220.0 L642.6,218.1 L643.1,216.2 L643.6,214.2 L644.1,212.3 L644.6,210.4 L645.1,208.4 L645.5,206.5 L646.0,204.5 L646.4,202.6 L646.9,200.7 L647.3,198.7 L647.8,196.8 L648.2,194.8 L648.7,192.9 L649.1,190.9 L649.6,189.0 L650.0,187.0 L650.4,185.1 L650.9,183.2 L651.3,181.2 L651.7,179.3 L652.2,177.3 L652.6,175.4 L653.0,173.4 L653.5,171.5 L653.9,169.5 L654.4,167.6 L654.8,165.6 L655.3,163.7 L655.7,161.7 L656.2,159.8 L656.7,157.9 L657.1,155.9 L657.6,154.0 L658.1,152.1 L658.6,150.1 L659.1,148.2 L659.6,146.3 L660.1,144.3 L660.6,142.4 L661.1,140.5 L661.6,138.5 L662.1,136.6 L662.6,134.7 L663.1,132.7 L663.7,130.8 L664.2,128.9 L664.7,127.0 L665.2,125.0 L665.8,123.1 L666.3,121.2 L666.8,119.3 L667.3,117.3 L667.9,115.4 L668.4,113.5 L668.9,111.5 L669.5,109.6 L670.0,107.7 L670.5,105.7 L671.0,103.8 L671.5,101.9 L672.1,99.9 L672.6,98.0 L673.1,96.1 L673.6,94.1 L674.1,92.2 L674.6,90.3 L675.2,88.3 L675.8,86.4 L676.5,84.5 L677.2,82.7 L678.0,80.9 L679.0,79.1 L680.0,77.4 L681.2,75.7 L682.5,74.0 L683.9,72.5 L685.5,71.0 L687.2,69.8 L688.9,69.1 L690.5,68.9 L692.1,69.3 L693.5,70.2 L694.9,71.5 L696.2,73.0 L697.3,74.7 L698.4,76.6 L699.3,78.5 L700.1,80.4 L700.8,82.2 L701.5,84.1 L702.1,86.0 L702.6,87.9 L703.1,89.8 L703.7,91.7 L704.2,93.6 L704.7,95.6 L705.2,97.5 L705.7,99.4 L706.2,101.3 L706.8,103.3 L707.3,105.2 L707.8,107.2 L708.4,109.1 L708.9,111.1 L709.4,113.0 L710.0,115.0 L710.5,116.9 L711.1,118.9 L711.6,120.8 L712.1,122.8 L712.7,124.7 L713.3,126.6 L713.8,128.6 L714.4,130.5 L714.9,132.4 L715.5,134.4 L716.1,136.3 L716.6,138.2 L717.2,140.1 L717.8,142.0 L718.4,143.9 L719.0,145.8 L719.6,147.7 L720.2,149.6 L720.8,151.5 L721.4,153.3 L722.0,155.2 L722.6,157.0 L723.2,158.9 L723.8,160.8 L724.5,162.6 L725.1,164.5 L725.7,166.3 L726.4,168.1 L727.0,170.0 L727.7,171.8 L728.4,173.7 L729.0,175.5 L729.7,177.4 L730.4,179.2 L731.1,181.1 L731.8,182.9 L732.5,184.8 L733.2,186.7 L733.9,188.5 L734.6,190.4 L735.4,192.3 L736.1,194.2 L736.9,196.1 L737.6,198.0 L738.4,199.9 L739.2,201.8 L740.0,203.7 L740.8,205.7 L741.6,207.6 L742.4,209.5 L743.2,211.5 L744.1,213.4 L744.9,215.3 L745.8,217.2 L746.7,219.0 L747.7,220.9 L748.6,222.7 L749.6,224.5 L750.7,226.3 L751.7,228.0 L752.8,229.7 L753.9,231.4 L755.0,233.0 L756.2,234.5 L757.4,236.0 L758.7,237.5 L760.0,238.9 L761.3,240.2 L762.7,241.5 L764.2,242.7 L765.7,243.8 L767.2,244.8 L768.8,245.8 L770.4,246.7 L772.1,247.6 L773.8,248.3 L775.5,249.1 L777.3,249.7 L779.1,250.3 L781.0,250.9 L782.9,251.4 L784.8,251.9 L786.7,252.3 L788.7,252.7 L790.7,253.1 L792.7,253.5 L794.7,253.8 L796.7,254.2 L798.7,254.5 L800.8,254.8 L802.8,255.1 L804.9,255.4 L806.9,255.7 L808.9,256.1 L811.0,256.4 L813.0,256.8 L815.0,257.1 L817.1,257.5 L819.1,258.0 L821.0,258.4 L823.0,258.9 L824.9,259.5 L826.8,260.1 L828.7,260.7 L830.6,261.4 L832.4,262.2 L834.2,263.0 L836.0,263.8 L837.8,264.7 L839.5,265.6 L841.2,266.6 L842.9,267.6 L844.6,268.6 L846.3,269.6 L847.9,270.7 L849.6,271.7 L851.2,272.8 L852.9,273.9 L854.6,275.0 L856.2,276.0 L857.9,277.1 L859.6,278.1 L861.3,279.2 L863.0,280.2 L864.7,281.2 L866.5,282.1 L868.3,283.0 L870.1,283.9 L871.9,284.7 L873.7,285.6 L875.6,286.3 L877.4,287.1 L879.3,287.8 L881.2,288.5 L883.1,289.2 L885.0,289.8 L886.9,290.4 L888.9,290.9 L890.8,291.4 L892.8,291.9 L894.8,292.4 L896.7,292.8 L898.7,293.2 L900.7,293.6 L902.7,293.9 L904.7,294.2 L906.7,294.5 L908.7,294.7 L910.7,294.9 L912.7,295.0 L914.7,295.2 L916.6,295.3 L918.6,295.3 L920.6,295.4 L922.6,295.4 L924.6,295.4 L926.6,295.3 L928.6,295.2 L930.6,295.1 L932.5,295.0 L934.5,294.9 L936.5,294.7 L938.5,294.6 L940.4,294.4 L942.4,294.2 L944.4,294.0 L946.4,293.7 L948.4,293.5 L950.3,293.2 L952.3,293.0 L954.3,292.7 L956.3,292.5 L958.2,292.2 L960.2,291.9 L962.2,291.6 L964.2,291.4 L966.1,291.1 L968.1,290.9 L970.1,290.6 L972.1,290.3 L974.1,290.1 L976.1,289.9 L978.0,289.7 L980.0,289.4 L982.0,289.3 L984.0,289.1 L986.0,288.9 L988.0,288.8 L990.0,288.7 L992.0,288.6 L994.0,288.5" fill="none" stroke="#E68C8A" stroke-width="2.3" stroke-linejoin="round" stroke-linecap="round"/>
<path d="M547.7,305.6 L549.4,305.5 L551.1,305.3 L552.9,305.2 L554.8,305.1 L556.7,305.1 L558.6,305.0 L560.6,305.0 L562.6,305.0 L564.7,305.0 L566.8,304.9 L568.9,304.9 L571.0,304.9 L573.2,304.8 L575.3,304.7 L577.5,304.6 L579.6,304.5 L581.8,304.3 L583.9,304.1 L586.0,303.9 L588.1,303.6 L590.2,303.2 L592.2,302.8 L594.2,302.4 L596.1,301.8 L598.1,301.2 L599.9,300.5 L601.7,299.8 L603.5,298.9 L605.2,298.0 L606.8,297.0 L608.3,295.9 L609.8,294.7 L611.3,293.4 L612.6,292.1 L614.0,290.7 L615.2,289.3 L616.5,287.7 L617.6,286.2 L618.8,284.6 L619.9,282.9 L620.9,281.2 L622.0,279.5 L623.0,277.8 L623.9,276.0 L624.9,274.2 L625.8,272.4 L626.7,270.6 L627.6,268.8 L628.4,267.0 L629.2,265.2 L630.1,263.3 L630.9,261.5 L631.6,259.6 L632.4,257.8 L633.2,255.9 L633.9,254.1 L634.6,252.2 L635.3,250.3 L636.0,248.5 L636.6,246.6 L637.3,244.7 L637.9,242.8 L638.6,240.9 L639.2,239.0 L639.8,237.1 L640.4,235.2 L640.9,233.3 L641.5,231.4 L642.1,229.5 L642.6,227.5 L643.1,225.6 L643.7,223.7 L644.2,221.8 L644.7,219.8 L645.2,217.9 L645.7,216.0 L646.2,214.0 L646.7,212.1 L647.1,210.1 L647.6,208.2 L648.1,206.2 L648.5,204.3 L649.0,202.3 L649.4,200.4 L649.9,198.4 L650.3,196.5 L650.8,194.5 L651.2,192.6 L651.7,190.6 L652.1,188.7 L652.5,186.7 L653.0,184.8 L653.4,182.8 L653.9,180.9 L654.3,178.9 L654.7,177.0 L655.2,175.0 L655.6,173.1 L656.1,171.1 L656.5,169.2 L657.0,167.2 L657.5,165.3 L657.9,163.4 L658.4,161.4 L658.9,159.5 L659.4,157.6 L659.9,155.6 L660.4,153.7 L660.9,151.8 L661.4,149.8 L661.9,147.9 L662.4,146.0 L662.9,144.1 L663.5,142.2 L664.0,140.2 L664.5,138.3 L665.1,136.4 L665.6,134.5 L666.1,132.6 L666.7,130.6 L667.2,128.7 L667.7,126.8 L668.3,124.9 L668.8,123.0 L669.3,121.0 L669.8,119.1 L670.4,117.2 L670.9,115.2 L671.4,113.3 L671.9,111.3 L672.4,109.4 L672.9,107.4 L673.4,105.5 L673.8,103.5 L674.3,101.6 L674.8,99.6 L675.2,97.6 L675.7,95.6 L676.2,93.7 L676.7,91.7 L677.2,89.8 L677.9,87.9 L678.6,86.0 L679.4,84.2 L680.3,82.4 L681.4,80.7 L682.6,79.1 L684.0,77.5 L685.5,76.0 L687.2,74.8 L688.8,74.0 L690.4,73.9 L691.8,74.4 L693.2,75.4 L694.4,76.9 L695.5,78.6 L696.6,80.5 L697.5,82.4 L698.4,84.4 L699.2,86.3 L699.9,88.2 L700.5,90.1 L701.2,92.1 L701.8,94.0 L702.3,95.9 L702.9,97.8 L703.5,99.7 L704.0,101.6 L704.6,103.6 L705.1,105.5 L705.6,107.4 L706.2,109.3 L706.7,111.3 L707.2,113.2 L707.7,115.1 L708.3,117.0 L708.8,118.9 L709.3,120.9 L709.8,122.8 L710.4,124.7 L710.9,126.6 L711.5,128.5 L712.0,130.4 L712.6,132.3 L713.2,134.2 L713.8,136.2 L714.4,138.1 L715.0,140.0 L715.6,141.9 L716.3,143.8 L716.9,145.7 L717.5,147.6 L718.2,149.4 L718.8,151.3 L719.5,153.2 L720.2,155.1 L720.8,157.0 L721.5,158.9 L722.2,160.8 L722.9,162.7 L723.5,164.6 L724.2,166.4 L724.9,168.3 L725.6,170.2 L726.3,172.1 L727.0,174.0 L727.7,175.8 L728.4,177.7 L729.0,179.6 L729.7,181.5 L730.4,183.3 L731.1,185.2 L731.8,187.1 L732.4,189.0 L733.1,190.8 L733.8,192.7 L734.5,194.6 L735.1,196.4 L735.8,198.3 L736.5,200.2 L737.2,202.0 L737.9,203.9 L738.6,205.7 L739.3,207.6 L740.0,209.4 L740.7,211.3 L741.5,213.1 L742.2,215.0 L743.0,216.8 L743.8,218.6 L744.6,220.5 L745.4,222.3 L746.2,224.1 L747.0,225.9 L747.9,227.7 L748.8,229.5 L749.7,231.3 L750.6,233.1 L751.5,234.9 L752.5,236.7 L753.5,238.4 L754.5,240.2 L755.6,242.0 L756.6,243.7 L757.7,245.4 L758.9,247.1 L760.1,248.7 L761.4,250.3 L762.7,251.8 L764.1,253.2 L765.5,254.5 L767.1,255.6 L768.7,256.6 L770.4,257.5 L772.2,258.2 L774.2,258.8 L776.1,259.3 L778.1,259.7 L780.1,260.0 L782.2,260.4 L784.2,260.7 L786.2,261.0 L788.2,261.3 L790.1,261.6 L792.1,262.0 L794.1,262.3 L796.1,262.6 L798.0,262.9 L800.0,263.2 L801.9,263.6 L803.9,263.9 L805.8,264.3 L807.8,264.6 L809.7,265.0 L811.6,265.4 L813.6,265.9 L815.5,266.3 L817.4,266.8 L819.3,267.3 L821.2,267.8 L823.1,268.3 L825.0,268.9 L826.9,269.5 L828.8,270.1 L830.7,270.7 L832.6,271.3 L834.5,272.0 L836.4,272.7 L838.2,273.3 L840.1,274.0 L842.0,274.7 L843.9,275.5 L845.8,276.2 L847.6,276.9 L849.5,277.6 L851.4,278.4 L853.3,279.1 L855.1,279.8 L857.0,280.6 L858.9,281.3 L860.8,282.0 L862.6,282.8 L864.5,283.5 L866.4,284.2 L868.3,284.9 L870.1,285.6 L872.0,286.3 L873.9,287.0 L875.8,287.6 L877.7,288.3 L879.6,288.9 L881.5,289.5 L883.4,290.1 L885.2,290.7 L887.1,291.3 L889.1,291.8 L891.0,292.3 L892.9,292.8 L894.8,293.3 L896.7,293.7 L898.6,294.2 L900.6,294.5 L902.5,294.9 L904.4,295.2 L906.4,295.5 L908.3,295.7 L910.3,295.9 L912.2,296.1 L914.2,296.3 L916.2,296.4 L918.2,296.4 L920.1,296.4 L922.1,296.4 L924.1,296.4 L926.1,296.3 L928.1,296.2 L930.1,296.1 L932.1,295.9 L934.2,295.7 L936.2,295.5 L938.2,295.3 L940.2,295.1 L942.2,294.8 L944.2,294.6 L946.3,294.3 L948.3,294.0 L950.3,293.7 L952.3,293.4 L954.3,293.1 L956.4,292.8 L958.4,292.5 L960.4,292.2 L962.4,291.9 L964.4,291.6 L966.4,291.3 L968.4,291.1 L970.4,290.8 L972.4,290.6 L974.4,290.3 L976.3,290.1 L978.3,290.0 L980.3,289.8 L982.2,289.6 L984.2,289.5 L986.1,289.4 L988.1,289.4 L990.0,289.4 L991.9,289.4 L993.8,289.4" fill="none" stroke="#9DC77F" stroke-width="2.3" stroke-linejoin="round" stroke-linecap="round"/>
<path d="M547.7,305.6 L549.4,305.5 L551.1,305.3 L552.9,305.3 L554.7,305.2 L556.7,305.1 L558.6,305.1 L560.6,305.1 L562.6,305.1 L564.7,305.0 L566.8,305.0 L568.9,305.0 L571.0,304.9 L573.2,304.9 L575.3,304.8 L577.5,304.6 L579.6,304.5 L581.8,304.3 L583.9,304.1 L586.0,303.8 L588.1,303.5 L590.1,303.1 L592.2,302.7 L594.2,302.2 L596.1,301.6 L598.0,301.0 L599.8,300.3 L601.6,299.5 L603.3,298.6 L605.0,297.7 L606.6,296.6 L608.1,295.5 L609.6,294.3 L611.0,293.0 L612.3,291.6 L613.6,290.2 L614.8,288.7 L616.0,287.2 L617.2,285.6 L618.3,283.9 L619.3,282.3 L620.4,280.6 L621.4,278.8 L622.3,277.1 L623.3,275.3 L624.2,273.5 L625.1,271.7 L625.9,269.9 L626.8,268.0 L627.6,266.2 L628.4,264.4 L629.2,262.5 L630.0,260.7 L630.8,258.8 L631.5,256.9 L632.3,255.1 L633.0,253.2 L633.7,251.3 L634.4,249.5 L635.0,247.6 L635.7,245.7 L636.3,243.8 L637.0,241.9 L637.6,240.0 L638.2,238.1 L638.8,236.2 L639.4,234.2 L640.0,232.3 L640.5,230.4 L641.1,228.5 L641.6,226.5 L642.2,224.6 L642.7,222.7 L643.2,220.7 L643.7,218.8 L644.2,216.9 L644.7,214.9 L645.2,213.0 L645.7,211.0 L646.1,209.1 L646.6,207.1 L647.1,205.2 L647.5,203.2 L648.0,201.3 L648.5,199.3 L648.9,197.4 L649.3,195.4 L649.8,193.5 L650.2,191.5 L650.7,189.6 L651.1,187.6 L651.5,185.7 L652.0,183.7 L652.4,181.8 L652.9,179.8 L653.3,177.9 L653.7,175.9 L654.2,174.0 L654.6,172.1 L655.1,170.1 L655.5,168.2 L656.0,166.2 L656.4,164.3 L656.9,162.4 L657.3,160.4 L657.8,158.5 L658.3,156.6 L658.8,154.7 L659.2,152.8 L659.7,150.8 L660.2,148.9 L660.7,147.0 L661.2,145.1 L661.7,143.2 L662.3,141.3 L662.8,139.4 L663.3,137.5 L663.8,135.6 L664.3,133.7 L664.9,131.7 L665.4,129.8 L665.9,127.9 L666.4,126.0 L667.0,124.1 L667.5,122.1 L668.0,120.2 L668.6,118.2 L669.1,116.3 L669.6,114.3 L670.1,112.4 L670.7,110.4 L671.2,108.4 L671.7,106.5 L672.2,104.5 L672.7,102.5 L673.2,100.5 L673.7,98.4 L674.2,96.4 L674.7,94.4 L675.2,92.4 L675.8,90.3 L676.4,88.4 L677.0,86.4 L677.7,84.5 L678.5,82.7 L679.4,80.9 L680.3,79.2 L681.4,77.6 L682.7,76.2 L684.0,74.8 L685.5,73.6 L687.1,72.6 L688.7,72.1 L690.3,72.0 L691.8,72.5 L693.3,73.3 L694.6,74.4 L695.9,75.8 L697.0,77.4 L698.0,79.2 L698.9,81.0 L699.7,83.0 L700.4,85.0 L701.1,87.0 L701.6,89.0 L702.2,91.1 L702.7,93.2 L703.2,95.2 L703.8,97.2 L704.3,99.2 L704.8,101.2 L705.3,103.2 L705.8,105.1 L706.3,107.1 L706.8,109.0 L707.4,110.9 L707.9,112.8 L708.4,114.7 L708.9,116.6 L709.5,118.5 L710.0,120.4 L710.5,122.3 L711.1,124.2 L711.6,126.0 L712.2,127.9 L712.8,129.8 L713.3,131.7 L713.9,133.6 L714.5,135.5 L715.1,137.4 L715.7,139.3 L716.3,141.1 L717.0,143.0 L717.6,144.9 L718.2,146.8 L718.9,148.7 L719.5,150.6 L720.2,152.5 L720.8,154.4 L721.5,156.3 L722.1,158.2 L722.8,160.1 L723.5,162.0 L724.1,163.9 L724.8,165.8 L725.5,167.7 L726.2,169.6 L726.8,171.5 L727.5,173.4 L728.2,175.3 L728.9,177.2 L729.6,179.1 L730.2,181.0 L730.9,182.9 L731.6,184.8 L732.3,186.6 L732.9,188.5 L733.6,190.4 L734.3,192.3 L734.9,194.1 L735.6,196.0 L736.3,197.8 L737.0,199.7 L737.7,201.6 L738.3,203.4 L739.0,205.3 L739.7,207.1 L740.5,209.0 L741.2,210.8 L741.9,212.7 L742.6,214.5 L743.4,216.3 L744.1,218.2 L744.9,220.0 L745.7,221.8 L746.5,223.7 L747.3,225.5 L748.1,227.3 L748.9,229.2 L749.8,231.0 L750.6,232.8 L751.5,234.6 L752.4,236.4 L753.3,238.2 L754.3,240.1 L755.2,241.9 L756.2,243.7 L757.2,245.5 L758.2,247.2 L759.3,249.0 L760.4,250.6 L761.6,252.3 L762.9,253.8 L764.2,255.3 L765.6,256.6 L767.1,257.9 L768.6,259.0 L770.3,260.0 L772.1,260.8 L773.9,261.6 L775.9,262.2 L777.8,262.7 L779.8,263.1 L781.8,263.6 L783.8,264.0 L785.8,264.4 L787.8,264.8 L789.8,265.1 L791.7,265.5 L793.7,265.9 L795.7,266.2 L797.6,266.5 L799.6,266.9 L801.5,267.2 L803.5,267.6 L805.4,267.9 L807.4,268.3 L809.3,268.7 L811.2,269.1 L813.1,269.5 L815.1,269.9 L817.0,270.4 L818.9,270.8 L820.8,271.3 L822.7,271.9 L824.7,272.4 L826.6,273.0 L828.5,273.5 L830.4,274.1 L832.3,274.7 L834.2,275.4 L836.1,276.0 L838.0,276.7 L839.9,277.3 L841.8,278.0 L843.7,278.7 L845.6,279.4 L847.5,280.1 L849.4,280.8 L851.2,281.5 L853.1,282.2 L855.0,282.9 L856.9,283.6 L858.8,284.3 L860.7,285.0 L862.6,285.7 L864.5,286.4 L866.4,287.0 L868.3,287.7 L870.2,288.4 L872.1,289.0 L874.0,289.7 L875.9,290.3 L877.8,290.9 L879.7,291.5 L881.6,292.0 L883.6,292.6 L885.5,293.1 L887.4,293.6 L889.3,294.1 L891.2,294.6 L893.2,295.0 L895.1,295.4 L897.0,295.8 L898.9,296.2 L900.9,296.5 L902.8,296.8 L904.8,297.0 L906.7,297.2 L908.7,297.4 L910.6,297.6 L912.6,297.7 L914.6,297.7 L916.5,297.8 L918.5,297.8 L920.5,297.7 L922.5,297.6 L924.5,297.5 L926.5,297.3 L928.5,297.2 L930.5,296.9 L932.5,296.7 L934.5,296.4 L936.5,296.2 L938.5,295.9 L940.5,295.5 L942.5,295.2 L944.5,294.9 L946.5,294.5 L948.5,294.1 L950.5,293.7 L952.5,293.4 L954.5,293.0 L956.5,292.6 L958.5,292.2 L960.5,291.8 L962.5,291.4 L964.5,291.1 L966.5,290.7 L968.5,290.4 L970.5,290.0 L972.4,289.7 L974.4,289.4 L976.4,289.1 L978.3,288.8 L980.3,288.6 L982.3,288.4 L984.2,288.2 L986.1,288.0 L988.1,287.9 L990.0,287.8 L991.9,287.7 L993.8,287.7" fill="none" stroke="#A28CC9" stroke-width="2.3" stroke-linejoin="round" stroke-linecap="round"/>
<path d="M547.5,305.6 L549.4,305.5 L551.2,305.4 L553.1,305.3 L555.1,305.2 L557.1,305.2 L559.1,305.2 L561.1,305.2 L563.1,305.1 L565.2,305.1 L567.2,305.1 L569.3,305.0 L571.4,305.0 L573.4,304.9 L575.5,304.8 L577.6,304.7 L579.6,304.5 L581.7,304.3 L583.7,304.0 L585.7,303.7 L587.7,303.3 L589.6,302.9 L591.6,302.4 L593.5,301.9 L595.3,301.3 L597.1,300.6 L598.9,299.8 L600.6,298.9 L602.3,298.0 L603.9,296.9 L605.4,295.8 L606.9,294.6 L608.4,293.3 L609.8,291.9 L611.1,290.5 L612.4,289.0 L613.7,287.5 L614.9,285.8 L616.1,284.2 L617.2,282.5 L618.3,280.8 L619.3,279.0 L620.3,277.2 L621.3,275.4 L622.2,273.5 L623.1,271.7 L624.0,269.8 L624.8,268.0 L625.6,266.1 L626.4,264.3 L627.2,262.4 L627.9,260.5 L628.6,258.7 L629.2,256.8 L629.9,254.9 L630.5,253.0 L631.1,251.1 L631.7,249.2 L632.3,247.4 L632.9,245.5 L633.4,243.6 L633.9,241.7 L634.5,239.8 L635.0,237.9 L635.5,235.9 L636.0,234.0 L636.5,232.1 L636.9,230.2 L637.4,228.3 L637.9,226.4 L638.4,224.5 L638.9,222.5 L639.3,220.6 L639.8,218.7 L640.3,216.8 L640.8,214.8 L641.3,212.9 L641.8,211.0 L642.3,209.0 L642.8,207.1 L643.3,205.2 L643.8,203.2 L644.3,201.3 L644.8,199.4 L645.3,197.4 L645.9,195.5 L646.4,193.5 L646.9,191.6 L647.4,189.7 L647.9,187.7 L648.4,185.8 L648.9,183.8 L649.4,181.9 L650.0,180.0 L650.5,178.0 L651.0,176.1 L651.5,174.1 L652.0,172.2 L652.5,170.2 L653.0,168.3 L653.5,166.3 L654.0,164.4 L654.4,162.5 L654.9,160.5 L655.4,158.6 L655.9,156.6 L656.3,154.7 L656.8,152.8 L657.3,150.8 L657.7,148.9 L658.2,146.9 L658.6,145.0 L659.0,143.1 L659.5,141.1 L659.9,139.2 L660.4,137.3 L660.8,135.3 L661.2,133.4 L661.7,131.5 L662.1,129.5 L662.5,127.6 L663.0,125.7 L663.4,123.8 L663.9,121.8 L664.4,119.9 L664.8,118.0 L665.3,116.0 L665.8,114.1 L666.3,112.2 L666.8,110.2 L667.3,108.3 L667.8,106.4 L668.3,104.5 L668.8,102.5 L669.4,100.6 L670.0,98.7 L670.5,96.7 L671.1,94.8 L671.7,92.9 L672.4,91.0 L673.0,89.0 L673.7,87.1 L674.4,85.2 L675.1,83.3 L675.9,81.4 L676.8,79.6 L677.7,77.8 L678.7,76.0 L679.7,74.3 L680.9,72.6 L682.1,70.9 L683.4,69.3 L684.8,67.8 L686.3,66.5 L687.8,65.7 L689.2,65.4 L690.6,65.7 L692.0,66.6 L693.3,67.8 L694.5,69.4 L695.6,71.2 L696.7,73.1 L697.6,75.1 L698.5,77.0 L699.3,78.9 L700.0,80.8 L700.7,82.7 L701.3,84.6 L701.9,86.5 L702.5,88.4 L703.0,90.3 L703.6,92.2 L704.1,94.1 L704.6,96.1 L705.1,98.0 L705.6,100.0 L706.1,101.9 L706.5,103.9 L707.0,105.8 L707.5,107.8 L708.0,109.7 L708.4,111.7 L708.9,113.7 L709.4,115.6 L709.9,117.6 L710.4,119.5 L710.9,121.4 L711.4,123.4 L712.0,125.3 L712.5,127.2 L713.1,129.1 L713.7,131.0 L714.3,132.9 L714.9,134.8 L715.6,136.6 L716.2,138.5 L716.8,140.4 L717.5,142.2 L718.2,144.1 L718.8,146.0 L719.5,147.8 L720.2,149.7 L720.9,151.5 L721.6,153.4 L722.3,155.2 L723.0,157.1 L723.7,158.9 L724.4,160.8 L725.0,162.6 L725.7,164.5 L726.4,166.4 L727.1,168.2 L727.8,170.1 L728.5,172.0 L729.1,173.9 L729.8,175.8 L730.4,177.7 L731.1,179.6 L731.7,181.5 L732.3,183.4 L732.9,185.3 L733.5,187.3 L734.1,189.2 L734.7,191.1 L735.3,193.1 L735.9,195.0 L736.5,197.0 L737.1,198.9 L737.7,200.9 L738.3,202.8 L738.9,204.8 L739.5,206.7 L740.1,208.6 L740.8,210.6 L741.4,212.5 L742.1,214.4 L742.8,216.3 L743.5,218.1 L744.3,220.0 L745.0,221.9 L745.8,223.7 L746.6,225.5 L747.5,227.3 L748.3,229.1 L749.2,230.8 L750.2,232.6 L751.1,234.3 L752.2,236.0 L753.2,237.7 L754.3,239.3 L755.4,240.9 L756.6,242.5 L757.8,244.1 L759.1,245.6 L760.4,247.1 L761.7,248.5 L763.1,249.9 L764.5,251.3 L766.0,252.6 L767.5,253.9 L769.0,255.1 L770.5,256.3 L772.1,257.4 L773.8,258.4 L775.4,259.4 L777.1,260.3 L778.9,261.2 L780.6,262.0 L782.4,262.7 L784.2,263.4 L786.1,264.0 L788.0,264.5 L789.8,265.0 L791.8,265.5 L793.7,265.9 L795.6,266.3 L797.6,266.6 L799.6,267.0 L801.5,267.3 L803.5,267.6 L805.5,267.9 L807.5,268.2 L809.5,268.5 L811.5,268.8 L813.5,269.2 L815.5,269.5 L817.5,269.9 L819.5,270.3 L821.5,270.8 L823.4,271.2 L825.4,271.7 L827.3,272.3 L829.3,272.8 L831.2,273.4 L833.2,273.9 L835.1,274.6 L837.0,275.2 L838.9,275.8 L840.8,276.5 L842.7,277.1 L844.7,277.8 L846.6,278.5 L848.4,279.2 L850.3,279.9 L852.2,280.6 L854.1,281.3 L856.0,282.0 L857.9,282.7 L859.8,283.5 L861.7,284.2 L863.5,284.9 L865.4,285.6 L867.3,286.3 L869.2,287.0 L871.0,287.6 L872.9,288.3 L874.8,289.0 L876.7,289.6 L878.6,290.2 L880.5,290.8 L882.3,291.4 L884.2,292.0 L886.1,292.6 L888.0,293.1 L889.9,293.6 L891.8,294.1 L893.7,294.5 L895.6,294.9 L897.5,295.3 L899.4,295.7 L901.4,296.0 L903.3,296.3 L905.2,296.6 L907.2,296.8 L909.1,297.0 L911.1,297.1 L913.0,297.2 L915.0,297.3 L917.0,297.3 L918.9,297.2 L920.9,297.2 L922.9,297.0 L924.9,296.9 L926.9,296.7 L928.9,296.5 L930.9,296.3 L932.9,296.0 L934.9,295.7 L937.0,295.3 L939.0,295.0 L941.0,294.6 L943.0,294.2 L945.0,293.8 L947.0,293.4 L949.1,293.0 L951.1,292.5 L953.1,292.1 L955.1,291.6 L957.1,291.1 L959.1,290.7 L961.1,290.2 L963.1,289.7 L965.0,289.3 L967.0,288.8 L969.0,288.4 L970.9,287.9 L972.9,287.5 L974.8,287.1 L976.8,286.6 L978.7,286.3 L980.6,285.9 L982.5,285.5 L984.4,285.2 L986.3,284.9 L988.2,284.6 L990.0,284.4 L991.9,284.1 L993.7,284.0" fill="none" stroke="#5CBDD8" stroke-width="2.3" stroke-linejoin="round" stroke-linecap="round"/>
<line x1="920" y1="62.1" x2="940.5" y2="62.1" stroke="#0E63AD" stroke-width="2.5"/>
<text x="942.5" y="65.9" class="lg2" textLength="60.1" lengthAdjust="spacingAndGlyphs">PSBr Precursor</text>
<line x1="920" y1="81.7" x2="940.5" y2="81.7" stroke="#C0302F" stroke-width="2.5"/>
<text x="942.5" y="85.5" class="lg2" textLength="22.8" lengthAdjust="spacingAndGlyphs">2 min</text>
<line x1="920" y1="101.3" x2="940.5" y2="101.3" stroke="#77A83A" stroke-width="2.5"/>
<text x="942.5" y="105.1" class="lg2" textLength="22.8" lengthAdjust="spacingAndGlyphs">5 min</text>
<line x1="920" y1="120.9" x2="940.5" y2="120.9" stroke="#6C3F97" stroke-width="2.5"/>
<text x="942.5" y="124.7" class="lg2" textLength="22.8" lengthAdjust="spacingAndGlyphs">7 min</text>
<line x1="920" y1="140.5" x2="940.5" y2="140.5" stroke="#1AA0BA" stroke-width="2.5"/>
<text x="942.5" y="144.3" class="lg2" textLength="27.9" lengthAdjust="spacingAndGlyphs">10 min</text>
<line x1="920" y1="160.1" x2="940.5" y2="160.1" stroke="#F57F20" stroke-width="2.5"/>
<text x="942.5" y="163.9" class="lg2" textLength="27.9" lengthAdjust="spacingAndGlyphs">15 min</text>
<line x1="920" y1="179.7" x2="940.5" y2="179.7" stroke="#7FA3D6" stroke-width="2.5"/>
<text x="942.5" y="183.5" class="lg2" textLength="27.9" lengthAdjust="spacingAndGlyphs">20 min</text>
<line x1="920" y1="199.3" x2="940.5" y2="199.3" stroke="#E68C8A" stroke-width="2.5"/>
<text x="942.5" y="203.1" class="lg2" textLength="27.9" lengthAdjust="spacingAndGlyphs">25 min</text>
<line x1="920" y1="218.9" x2="940.5" y2="218.9" stroke="#9DC77F" stroke-width="2.5"/>
<text x="942.5" y="222.7" class="lg2" textLength="27.9" lengthAdjust="spacingAndGlyphs">30 min</text>
<line x1="920" y1="238.5" x2="940.5" y2="238.5" stroke="#A28CC9" stroke-width="2.5"/>
<text x="942.5" y="242.3" class="lg2" textLength="27.9" lengthAdjust="spacingAndGlyphs">40 min</text>
<line x1="920" y1="258.1" x2="940.5" y2="258.1" stroke="#5CBDD8" stroke-width="2.5"/>
<text x="942.5" y="261.9" class="lg2" textLength="27.9" lengthAdjust="spacingAndGlyphs">50 min</text>
<text x="259" y="376.9" class="cap">(<tspan font-weight="bold">a</tspan>)</text>
<text x="771.5" y="377.1" class="cap">(<tspan font-weight="bold">b</tspan>)</text>
</svg>
</body></html>
